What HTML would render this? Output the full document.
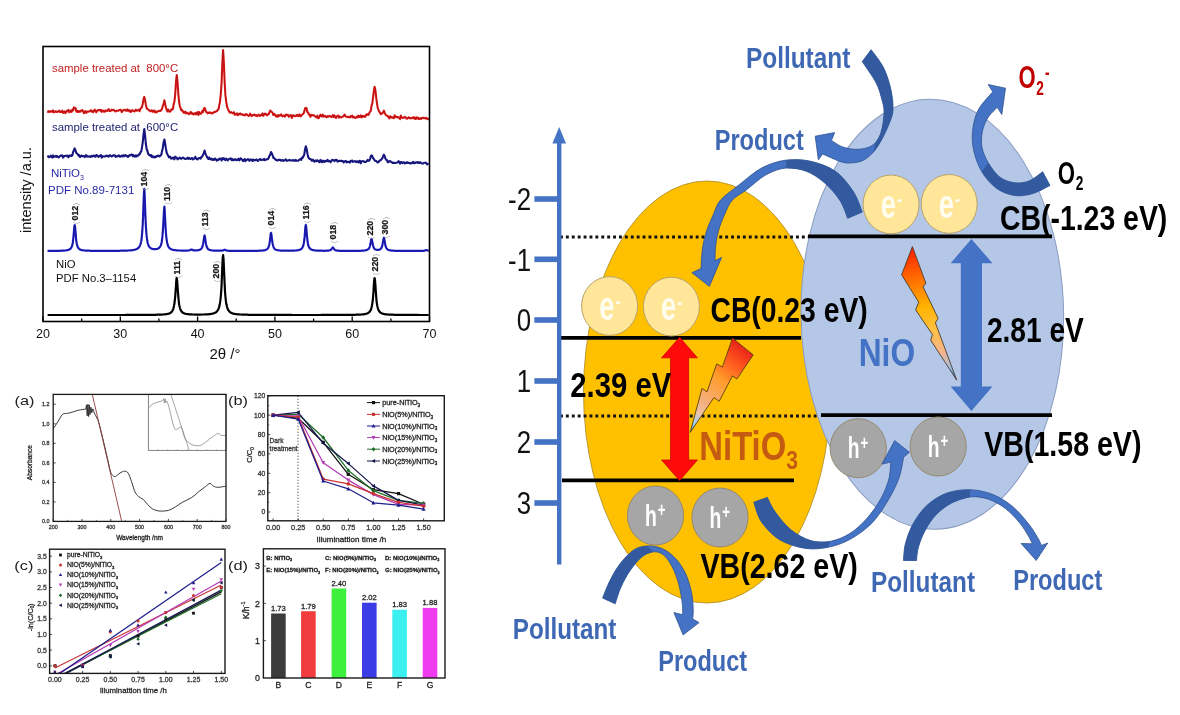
<!DOCTYPE html>
<html><head><meta charset="utf-8"><title>NiO/NiTiO3 figure</title>
<style>html,body{margin:0;padding:0;background:#fff;}svg{display:block}</style></head>
<body><svg width="1180" height="715" viewBox="0 0 1180 715">
<rect width="1180" height="715" fill="#fff"/>
<g id="xrd">
<polyline points="47.6,112.8 48.4,111.2 49.2,111.6 50.0,111.9 50.7,111.0 51.5,111.6 52.3,111.6 53.0,110.3 53.8,112.4 54.6,112.1 55.4,111.2 56.1,111.5 56.9,112.0 57.7,111.5 58.5,111.5 59.2,110.6 60.0,112.1 60.8,111.8 61.6,111.9 62.3,110.6 63.1,112.9 63.9,111.8 64.6,111.4 65.4,113.2 66.2,111.6 67.0,110.6 67.7,111.3 68.5,109.9 69.3,112.3 70.1,111.1 70.8,110.7 71.6,111.9 72.4,109.5 73.1,110.4 73.9,107.4 74.7,107.8 75.5,108.0 76.2,111.1 77.0,112.0 77.8,110.8 78.6,111.9 79.3,111.2 80.1,111.8 80.9,110.9 81.7,110.2 82.4,110.1 83.2,111.8 84.0,113.2 84.7,111.7 85.5,111.1 86.3,112.9 87.1,111.6 87.8,111.5 88.6,111.6 89.4,111.2 90.2,111.1 90.9,110.2 91.7,111.6 92.5,111.1 93.2,112.1 94.0,110.9 94.8,109.7 95.6,111.0 96.3,112.3 97.1,110.7 97.9,110.3 98.7,110.0 99.4,110.1 100.2,110.6 101.0,109.9 101.7,111.9 102.5,110.5 103.3,110.8 104.1,111.7 104.8,111.7 105.6,110.4 106.4,110.8 107.2,111.0 107.9,110.3 108.7,109.1 109.5,110.9 110.3,111.1 111.0,110.7 111.8,109.6 112.6,110.2 113.3,109.9 114.1,110.1 114.9,111.2 115.7,111.4 116.4,110.8 117.2,110.7 118.0,110.8 118.8,110.2 119.5,110.2 120.3,109.8 121.1,110.2 121.8,112.0 122.6,111.0 123.4,110.1 124.2,110.0 124.9,109.7 125.7,110.7 126.5,110.7 127.3,109.4 128.0,110.8 128.8,110.1 129.6,111.6 130.3,110.7 131.1,111.9 131.9,110.3 132.7,110.4 133.4,110.9 134.2,111.4 135.0,111.1 135.8,109.7 136.5,110.7 137.3,110.5 138.1,110.1 138.9,109.7 139.6,111.2 140.4,109.0 141.2,107.8 141.9,107.3 142.7,104.0 143.5,99.3 144.3,96.9 145.0,99.8 145.8,104.4 146.6,107.9 147.4,109.1 148.1,109.4 148.9,110.3 149.7,110.6 150.4,111.4 151.2,110.7 152.0,110.3 152.8,111.8 153.5,110.9 154.3,110.5 155.1,112.3 155.9,111.5 156.6,112.4 157.4,111.6 158.2,111.0 159.0,110.8 159.7,111.1 160.5,110.9 161.3,109.8 162.0,109.1 162.8,106.0 163.6,103.9 164.4,100.3 165.1,103.6 165.9,107.5 166.7,109.9 167.5,111.4 168.2,109.5 169.0,111.4 169.8,111.7 170.5,111.3 171.3,109.4 172.1,109.5 172.9,109.3 173.6,104.4 174.4,101.7 175.2,94.8 176.0,81.8 176.7,75.0 177.5,81.6 178.3,93.5 179.0,101.0 179.8,106.0 180.6,108.2 181.4,110.5 182.1,110.1 182.9,111.4 183.7,112.7 184.5,112.7 185.2,111.6 186.0,113.3 186.8,112.6 187.6,113.4 188.3,113.4 189.1,114.2 189.9,113.4 190.6,112.0 191.4,112.4 192.2,114.1 193.0,113.4 193.7,114.4 194.5,113.8 195.3,113.0 196.1,114.4 196.8,113.0 197.6,112.0 198.4,115.1 199.1,112.0 199.9,113.8 200.7,113.9 201.5,113.0 202.2,111.0 203.0,112.1 203.8,108.8 204.6,107.8 205.3,109.5 206.1,111.9 206.9,112.4 207.6,113.3 208.4,112.6 209.2,113.0 210.0,112.3 210.7,112.9 211.5,113.5 212.3,112.8 213.1,113.2 213.8,112.2 214.6,111.9 215.4,112.0 216.2,111.3 216.9,111.2 217.7,109.8 218.5,109.4 219.2,105.6 220.0,101.6 220.8,94.1 221.6,82.6 222.3,63.9 223.1,50.1 223.9,63.4 224.7,83.2 225.4,94.9 226.2,101.5 227.0,106.6 227.7,108.4 228.5,110.2 229.3,111.9 230.1,112.7 230.8,112.1 231.6,112.4 232.4,113.3 233.2,113.3 233.9,112.2 234.7,114.7 235.5,113.9 236.3,114.6 237.0,113.3 237.8,115.2 238.6,113.9 239.3,114.3 240.1,113.4 240.9,114.4 241.7,114.4 242.4,114.5 243.2,115.0 244.0,114.8 244.8,115.5 245.5,114.4 246.3,114.1 247.1,114.8 247.8,115.4 248.6,115.9 249.4,115.6 250.2,113.6 250.9,115.3 251.7,116.1 252.5,115.1 253.3,114.7 254.0,115.3 254.8,114.7 255.6,115.6 256.3,115.1 257.1,116.2 257.9,115.5 258.7,114.6 259.4,115.6 260.2,115.9 261.0,114.8 261.8,114.9 262.5,113.4 263.3,115.8 264.1,114.7 264.9,113.5 265.6,113.7 266.4,114.8 267.2,115.3 267.9,114.4 268.7,114.3 269.5,112.2 270.3,110.5 271.0,111.2 271.8,111.9 272.6,113.0 273.4,115.0 274.1,113.9 274.9,114.6 275.7,115.9 276.4,116.6 277.2,115.3 278.0,116.7 278.8,115.0 279.5,115.8 280.3,115.4 281.1,114.4 281.9,115.8 282.6,116.3 283.4,115.6 284.2,115.6 284.9,116.7 285.7,114.8 286.5,114.6 287.3,115.3 288.0,114.9 288.8,116.8 289.6,116.0 290.4,115.1 291.1,115.3 291.9,118.0 292.7,115.4 293.5,115.2 294.2,116.0 295.0,116.3 295.8,116.0 296.5,115.1 297.3,114.9 298.1,116.2 298.9,115.6 299.6,114.3 300.4,116.3 301.2,115.8 302.0,114.8 302.7,114.2 303.5,113.7 304.3,111.4 305.0,108.4 305.8,107.9 306.6,108.3 307.4,112.3 308.1,112.5 308.9,114.5 309.7,115.0 310.5,116.8 311.2,114.8 312.0,114.7 312.8,115.4 313.6,115.2 314.3,115.6 315.1,116.4 315.9,116.8 316.6,117.5 317.4,115.7 318.2,118.3 319.0,117.8 319.7,116.2 320.5,114.6 321.3,116.3 322.1,116.5 322.8,114.7 323.6,116.5 324.4,116.3 325.1,115.9 325.9,117.0 326.7,117.3 327.5,116.2 328.2,116.7 329.0,116.1 329.8,116.0 330.6,116.6 331.3,117.0 332.1,116.2 332.9,115.0 333.6,117.1 334.4,115.4 335.2,116.7 336.0,118.0 336.7,116.7 337.5,115.8 338.3,115.6 339.1,117.6 339.8,116.7 340.6,117.1 341.4,117.4 342.2,116.7 342.9,116.5 343.7,116.1 344.5,114.5 345.2,115.6 346.0,116.7 346.8,116.7 347.6,117.1 348.3,116.7 349.1,116.9 349.9,117.4 350.7,116.1 351.4,116.6 352.2,115.6 353.0,117.5 353.7,116.8 354.5,117.2 355.3,117.9 356.1,117.6 356.8,116.7 357.6,117.3 358.4,115.6 359.2,117.0 359.9,116.7 360.7,115.3 361.5,117.5 362.2,115.9 363.0,116.8 363.8,115.9 364.6,116.8 365.3,116.8 366.1,115.0 366.9,114.1 367.7,114.7 368.4,114.9 369.2,113.2 370.0,111.8 370.8,110.9 371.5,105.9 372.3,103.4 373.1,97.0 373.8,91.2 374.6,86.8 375.4,90.1 376.2,97.7 376.9,102.8 377.7,107.9 378.5,109.9 379.3,111.7 380.0,112.5 380.8,114.2 381.6,113.5 382.3,113.5 383.1,112.3 383.9,110.6 384.7,112.9 385.4,114.4 386.2,115.5 387.0,115.6 387.8,116.0 388.5,117.2 389.3,118.4 390.1,116.3 390.9,117.5 391.6,116.9 392.4,117.8 393.2,117.6 393.9,118.2 394.7,115.3 395.5,117.0 396.3,116.8 397.0,117.5 397.8,117.1 398.6,117.2 399.4,118.2 400.1,119.1 400.9,115.6 401.7,117.5 402.4,118.0 403.2,117.8 404.0,117.6 404.8,116.9 405.5,117.2 406.3,118.5 407.1,118.7 407.9,118.0 408.6,117.4 409.4,118.1 410.2,117.8 410.9,118.4 411.7,118.1 412.5,117.6 413.3,118.2 414.0,117.2 414.8,118.7 415.6,119.0 416.4,117.3 417.1,118.5 417.9,117.5 418.7,119.0 419.5,118.9 420.2,118.1 421.0,119.0 421.8,118.0 422.5,117.8 423.3,117.9 424.1,118.2 424.9,118.1 425.6,118.5 426.4,117.9 427.2,119.0 428.0,119.2 428.7,118.1" fill="none" stroke="#e21a1a" stroke-width="2.1" stroke-linejoin="round"/>
<polyline points="47.6,112.8 48.4,111.2 49.2,111.6 50.0,111.9 50.7,111.0 51.5,111.6 52.3,111.6 53.0,110.3 53.8,112.4 54.6,112.1 55.4,111.2 56.1,111.5 56.9,112.0 57.7,111.5 58.5,111.5 59.2,110.6 60.0,112.1 60.8,111.8 61.6,111.9 62.3,110.6 63.1,112.9 63.9,111.8 64.6,111.4 65.4,113.2 66.2,111.6 67.0,110.6 67.7,111.3 68.5,109.9 69.3,112.3 70.1,111.1 70.8,110.7 71.6,111.9 72.4,109.5 73.1,110.4 73.9,107.4 74.7,107.8 75.5,108.0 76.2,111.1 77.0,112.0 77.8,110.8 78.6,111.9 79.3,111.2 80.1,111.8 80.9,110.9 81.7,110.2 82.4,110.1 83.2,111.8 84.0,113.2 84.7,111.7 85.5,111.1 86.3,112.9 87.1,111.6 87.8,111.5 88.6,111.6 89.4,111.2 90.2,111.1 90.9,110.2 91.7,111.6 92.5,111.1 93.2,112.1 94.0,110.9 94.8,109.7 95.6,111.0 96.3,112.3 97.1,110.7 97.9,110.3 98.7,110.0 99.4,110.1 100.2,110.6 101.0,109.9 101.7,111.9 102.5,110.5 103.3,110.8 104.1,111.7 104.8,111.7 105.6,110.4 106.4,110.8 107.2,111.0 107.9,110.3 108.7,109.1 109.5,110.9 110.3,111.1 111.0,110.7 111.8,109.6 112.6,110.2 113.3,109.9 114.1,110.1 114.9,111.2 115.7,111.4 116.4,110.8 117.2,110.7 118.0,110.8 118.8,110.2 119.5,110.2 120.3,109.8 121.1,110.2 121.8,112.0 122.6,111.0 123.4,110.1 124.2,110.0 124.9,109.7 125.7,110.7 126.5,110.7 127.3,109.4 128.0,110.8 128.8,110.1 129.6,111.6 130.3,110.7 131.1,111.9 131.9,110.3 132.7,110.4 133.4,110.9 134.2,111.4 135.0,111.1 135.8,109.7 136.5,110.7 137.3,110.5 138.1,110.1 138.9,109.7 139.6,111.2 140.4,109.0 141.2,107.8 141.9,107.3 142.7,104.0 143.5,99.3 144.3,96.9 145.0,99.8 145.8,104.4 146.6,107.9 147.4,109.1 148.1,109.4 148.9,110.3 149.7,110.6 150.4,111.4 151.2,110.7 152.0,110.3 152.8,111.8 153.5,110.9 154.3,110.5 155.1,112.3 155.9,111.5 156.6,112.4 157.4,111.6 158.2,111.0 159.0,110.8 159.7,111.1 160.5,110.9 161.3,109.8 162.0,109.1 162.8,106.0 163.6,103.9 164.4,100.3 165.1,103.6 165.9,107.5 166.7,109.9 167.5,111.4 168.2,109.5 169.0,111.4 169.8,111.7 170.5,111.3 171.3,109.4 172.1,109.5 172.9,109.3 173.6,104.4 174.4,101.7 175.2,94.8 176.0,81.8 176.7,75.0 177.5,81.6 178.3,93.5 179.0,101.0 179.8,106.0 180.6,108.2 181.4,110.5 182.1,110.1 182.9,111.4 183.7,112.7 184.5,112.7 185.2,111.6 186.0,113.3 186.8,112.6 187.6,113.4 188.3,113.4 189.1,114.2 189.9,113.4 190.6,112.0 191.4,112.4 192.2,114.1 193.0,113.4 193.7,114.4 194.5,113.8 195.3,113.0 196.1,114.4 196.8,113.0 197.6,112.0 198.4,115.1 199.1,112.0 199.9,113.8 200.7,113.9 201.5,113.0 202.2,111.0 203.0,112.1 203.8,108.8 204.6,107.8 205.3,109.5 206.1,111.9 206.9,112.4 207.6,113.3 208.4,112.6 209.2,113.0 210.0,112.3 210.7,112.9 211.5,113.5 212.3,112.8 213.1,113.2 213.8,112.2 214.6,111.9 215.4,112.0 216.2,111.3 216.9,111.2 217.7,109.8 218.5,109.4 219.2,105.6 220.0,101.6 220.8,94.1 221.6,82.6 222.3,63.9 223.1,50.1 223.9,63.4 224.7,83.2 225.4,94.9 226.2,101.5 227.0,106.6 227.7,108.4 228.5,110.2 229.3,111.9 230.1,112.7 230.8,112.1 231.6,112.4 232.4,113.3 233.2,113.3 233.9,112.2 234.7,114.7 235.5,113.9 236.3,114.6 237.0,113.3 237.8,115.2 238.6,113.9 239.3,114.3 240.1,113.4 240.9,114.4 241.7,114.4 242.4,114.5 243.2,115.0 244.0,114.8 244.8,115.5 245.5,114.4 246.3,114.1 247.1,114.8 247.8,115.4 248.6,115.9 249.4,115.6 250.2,113.6 250.9,115.3 251.7,116.1 252.5,115.1 253.3,114.7 254.0,115.3 254.8,114.7 255.6,115.6 256.3,115.1 257.1,116.2 257.9,115.5 258.7,114.6 259.4,115.6 260.2,115.9 261.0,114.8 261.8,114.9 262.5,113.4 263.3,115.8 264.1,114.7 264.9,113.5 265.6,113.7 266.4,114.8 267.2,115.3 267.9,114.4 268.7,114.3 269.5,112.2 270.3,110.5 271.0,111.2 271.8,111.9 272.6,113.0 273.4,115.0 274.1,113.9 274.9,114.6 275.7,115.9 276.4,116.6 277.2,115.3 278.0,116.7 278.8,115.0 279.5,115.8 280.3,115.4 281.1,114.4 281.9,115.8 282.6,116.3 283.4,115.6 284.2,115.6 284.9,116.7 285.7,114.8 286.5,114.6 287.3,115.3 288.0,114.9 288.8,116.8 289.6,116.0 290.4,115.1 291.1,115.3 291.9,118.0 292.7,115.4 293.5,115.2 294.2,116.0 295.0,116.3 295.8,116.0 296.5,115.1 297.3,114.9 298.1,116.2 298.9,115.6 299.6,114.3 300.4,116.3 301.2,115.8 302.0,114.8 302.7,114.2 303.5,113.7 304.3,111.4 305.0,108.4 305.8,107.9 306.6,108.3 307.4,112.3 308.1,112.5 308.9,114.5 309.7,115.0 310.5,116.8 311.2,114.8 312.0,114.7 312.8,115.4 313.6,115.2 314.3,115.6 315.1,116.4 315.9,116.8 316.6,117.5 317.4,115.7 318.2,118.3 319.0,117.8 319.7,116.2 320.5,114.6 321.3,116.3 322.1,116.5 322.8,114.7 323.6,116.5 324.4,116.3 325.1,115.9 325.9,117.0 326.7,117.3 327.5,116.2 328.2,116.7 329.0,116.1 329.8,116.0 330.6,116.6 331.3,117.0 332.1,116.2 332.9,115.0 333.6,117.1 334.4,115.4 335.2,116.7 336.0,118.0 336.7,116.7 337.5,115.8 338.3,115.6 339.1,117.6 339.8,116.7 340.6,117.1 341.4,117.4 342.2,116.7 342.9,116.5 343.7,116.1 344.5,114.5 345.2,115.6 346.0,116.7 346.8,116.7 347.6,117.1 348.3,116.7 349.1,116.9 349.9,117.4 350.7,116.1 351.4,116.6 352.2,115.6 353.0,117.5 353.7,116.8 354.5,117.2 355.3,117.9 356.1,117.6 356.8,116.7 357.6,117.3 358.4,115.6 359.2,117.0 359.9,116.7 360.7,115.3 361.5,117.5 362.2,115.9 363.0,116.8 363.8,115.9 364.6,116.8 365.3,116.8 366.1,115.0 366.9,114.1 367.7,114.7 368.4,114.9 369.2,113.2 370.0,111.8 370.8,110.9 371.5,105.9 372.3,103.4 373.1,97.0 373.8,91.2 374.6,86.8 375.4,90.1 376.2,97.7 376.9,102.8 377.7,107.9 378.5,109.9 379.3,111.7 380.0,112.5 380.8,114.2 381.6,113.5 382.3,113.5 383.1,112.3 383.9,110.6 384.7,112.9 385.4,114.4 386.2,115.5 387.0,115.6 387.8,116.0 388.5,117.2 389.3,118.4 390.1,116.3 390.9,117.5 391.6,116.9 392.4,117.8 393.2,117.6 393.9,118.2 394.7,115.3 395.5,117.0 396.3,116.8 397.0,117.5 397.8,117.1 398.6,117.2 399.4,118.2 400.1,119.1 400.9,115.6 401.7,117.5 402.4,118.0 403.2,117.8 404.0,117.6 404.8,116.9 405.5,117.2 406.3,118.5 407.1,118.7 407.9,118.0 408.6,117.4 409.4,118.1 410.2,117.8 410.9,118.4 411.7,118.1 412.5,117.6 413.3,118.2 414.0,117.2 414.8,118.7 415.6,119.0 416.4,117.3 417.1,118.5 417.9,117.5 418.7,119.0 419.5,118.9 420.2,118.1 421.0,119.0 421.8,118.0 422.5,117.8 423.3,117.9 424.1,118.2 424.9,118.1 425.6,118.5 426.4,117.9 427.2,119.0 428.0,119.2 428.7,118.1" fill="none" stroke="#7a0c0c" stroke-width="0.7" stroke-linejoin="round" opacity="0.6"/>
<polyline points="47.6,155.6 48.4,157.0 49.2,157.3 50.0,156.5 50.7,155.7 51.5,156.8 52.3,157.6 53.0,155.4 53.8,156.9 54.6,156.4 55.4,156.1 56.1,156.9 56.9,155.8 57.7,156.8 58.5,157.5 59.2,156.7 60.0,156.1 60.8,155.5 61.6,155.8 62.3,155.4 63.1,157.6 63.9,156.4 64.6,155.9 65.4,155.7 66.2,155.8 67.0,156.2 67.7,155.6 68.5,157.4 69.3,155.7 70.1,155.4 70.8,155.8 71.6,156.0 72.4,155.0 73.1,152.2 73.9,150.2 74.7,148.4 75.5,150.3 76.2,152.7 77.0,153.5 77.8,154.2 78.6,155.7 79.3,155.1 80.1,157.0 80.9,156.2 81.7,155.6 82.4,156.2 83.2,156.1 84.0,156.3 84.7,157.1 85.5,155.5 86.3,155.2 87.1,156.7 87.8,156.3 88.6,156.5 89.4,156.7 90.2,156.3 90.9,156.9 91.7,155.8 92.5,156.4 93.2,155.8 94.0,155.6 94.8,156.7 95.6,156.6 96.3,155.0 97.1,155.5 97.9,156.3 98.7,156.8 99.4,155.7 100.2,156.0 101.0,155.1 101.7,157.6 102.5,156.3 103.3,156.5 104.1,156.4 104.8,156.5 105.6,156.3 106.4,155.6 107.2,156.3 107.9,155.9 108.7,156.6 109.5,155.3 110.3,155.4 111.0,156.1 111.8,156.5 112.6,155.8 113.3,155.2 114.1,155.6 114.9,155.3 115.7,156.9 116.4,156.2 117.2,156.5 118.0,155.8 118.8,155.3 119.5,156.4 120.3,156.7 121.1,156.0 121.8,155.6 122.6,156.4 123.4,155.4 124.2,156.2 124.9,155.2 125.7,155.1 126.5,156.1 127.3,156.0 128.0,157.0 128.8,155.6 129.6,155.8 130.3,155.0 131.1,154.6 131.9,154.6 132.7,156.1 133.4,155.0 134.2,156.4 135.0,156.6 135.8,155.4 136.5,156.5 137.3,155.4 138.1,155.7 138.9,154.4 139.6,154.5 140.4,152.3 141.2,151.6 141.9,147.9 142.7,142.8 143.5,134.9 144.3,129.1 145.0,134.6 145.8,143.5 146.6,149.0 147.4,150.7 148.1,153.7 148.9,154.9 149.7,154.7 150.4,155.9 151.2,155.1 152.0,157.2 152.8,156.3 153.5,156.5 154.3,157.5 155.1,156.6 155.9,157.1 156.6,156.1 157.4,156.3 158.2,155.6 159.0,156.1 159.7,156.5 160.5,155.4 161.3,154.7 162.0,151.4 162.8,147.9 163.6,142.5 164.4,139.5 165.1,143.2 165.9,148.7 166.7,152.8 167.5,154.4 168.2,155.7 169.0,157.3 169.8,156.5 170.5,157.4 171.3,158.6 172.1,157.8 172.9,158.3 173.6,157.6 174.4,159.3 175.2,156.7 176.0,157.5 176.7,157.6 177.5,159.4 178.3,158.6 179.0,158.3 179.8,157.6 180.6,158.7 181.4,158.6 182.1,158.1 182.9,157.6 183.7,157.9 184.5,158.8 185.2,158.9 186.0,158.7 186.8,158.6 187.6,157.6 188.3,158.8 189.1,158.1 189.9,158.8 190.6,159.1 191.4,158.3 192.2,158.1 193.0,159.4 193.7,159.0 194.5,158.4 195.3,156.8 196.1,158.7 196.8,159.1 197.6,159.4 198.4,158.2 199.1,158.1 199.9,158.0 200.7,158.6 201.5,156.8 202.2,156.7 203.0,154.8 203.8,153.3 204.6,150.6 205.3,153.4 206.1,155.1 206.9,156.7 207.6,158.1 208.4,158.9 209.2,157.4 210.0,159.3 210.7,159.2 211.5,158.7 212.3,159.9 213.1,159.2 213.8,160.0 214.6,158.8 215.4,158.6 216.2,160.0 216.9,160.7 217.7,159.7 218.5,159.9 219.2,159.0 220.0,158.5 220.8,159.2 221.6,160.4 222.3,158.2 223.1,159.1 223.9,158.2 224.7,159.5 225.4,160.1 226.2,158.7 227.0,159.3 227.7,160.4 228.5,159.5 229.3,158.8 230.1,158.7 230.8,158.3 231.6,160.1 232.4,159.1 233.2,160.3 233.9,160.2 234.7,159.2 235.5,159.3 236.3,160.2 237.0,159.8 237.8,159.9 238.6,158.7 239.3,160.3 240.1,159.2 240.9,158.3 241.7,159.4 242.4,160.1 243.2,161.2 244.0,159.6 244.8,159.0 245.5,161.2 246.3,160.0 247.1,159.7 247.8,159.2 248.6,159.2 249.4,160.9 250.2,159.7 250.9,159.6 251.7,159.6 252.5,161.0 253.3,159.6 254.0,160.4 254.8,160.1 255.6,160.1 256.3,159.4 257.1,160.4 257.9,161.0 258.7,159.9 259.4,159.4 260.2,159.1 261.0,160.1 261.8,159.7 262.5,159.8 263.3,159.9 264.1,158.8 264.9,160.2 265.6,159.8 266.4,159.4 267.2,159.3 267.9,159.2 268.7,157.8 269.5,155.7 270.3,154.6 271.0,152.0 271.8,153.4 272.6,155.3 273.4,157.9 274.1,158.1 274.9,158.9 275.7,159.9 276.4,159.8 277.2,160.6 278.0,160.2 278.8,159.8 279.5,159.9 280.3,159.9 281.1,160.7 281.9,160.3 282.6,160.0 283.4,160.9 284.2,160.4 284.9,160.1 285.7,159.4 286.5,160.7 287.3,160.6 288.0,160.5 288.8,160.2 289.6,159.9 290.4,160.3 291.1,160.6 291.9,160.4 292.7,160.4 293.5,160.1 294.2,160.6 295.0,160.6 295.8,159.9 296.5,160.8 297.3,160.8 298.1,160.7 298.9,160.0 299.6,159.8 300.4,159.0 301.2,159.9 302.0,157.5 302.7,157.8 303.5,156.3 304.3,154.4 305.0,149.7 305.8,146.3 306.6,148.8 307.4,153.4 308.1,156.7 308.9,158.2 309.7,158.9 310.5,159.1 311.2,159.8 312.0,160.8 312.8,159.6 313.6,160.5 314.3,161.6 315.1,161.0 315.9,160.4 316.6,161.2 317.4,160.3 318.2,160.9 319.0,161.9 319.7,162.2 320.5,159.9 321.3,161.4 322.1,162.3 322.8,160.7 323.6,161.2 324.4,162.0 325.1,160.8 325.9,161.4 326.7,161.0 327.5,159.8 328.2,161.3 329.0,160.9 329.8,161.5 330.6,162.2 331.3,161.0 332.1,159.8 332.9,160.1 333.6,160.2 334.4,161.2 335.2,159.9 336.0,160.3 336.7,159.8 337.5,161.6 338.3,161.3 339.1,160.9 339.8,160.9 340.6,161.0 341.4,160.8 342.2,161.2 342.9,161.1 343.7,162.4 344.5,161.7 345.2,161.0 346.0,161.1 346.8,162.3 347.6,161.8 348.3,161.7 349.1,162.0 349.9,162.6 350.7,160.8 351.4,161.1 352.2,160.5 353.0,161.9 353.7,161.4 354.5,161.2 355.3,161.1 356.1,162.1 356.8,161.6 357.6,161.3 358.4,162.5 359.2,161.0 359.9,160.8 360.7,163.3 361.5,161.4 362.2,161.3 363.0,161.1 363.8,161.5 364.6,162.0 365.3,161.9 366.1,161.7 366.9,161.0 367.7,159.9 368.4,160.7 369.2,160.7 370.0,159.1 370.8,156.2 371.5,155.4 372.3,156.0 373.1,158.4 373.8,158.9 374.6,160.3 375.4,161.0 376.2,161.0 376.9,161.7 377.7,162.5 378.5,162.1 379.3,160.9 380.0,160.4 380.8,160.1 381.6,159.1 382.3,158.3 383.1,156.4 383.9,154.7 384.7,156.3 385.4,158.5 386.2,159.8 387.0,160.2 387.8,162.3 388.5,162.2 389.3,161.1 390.1,161.2 390.9,161.6 391.6,162.0 392.4,162.9 393.2,162.8 393.9,162.9 394.7,162.9 395.5,163.0 396.3,162.8 397.0,162.6 397.8,162.3 398.6,161.2 399.4,162.3 400.1,163.6 400.9,162.1 401.7,162.0 402.4,163.1 403.2,162.5 404.0,162.2 404.8,163.5 405.5,162.9 406.3,163.0 407.1,162.2 407.9,162.9 408.6,162.8 409.4,163.1 410.2,163.4 410.9,163.4 411.7,162.8 412.5,163.1 413.3,161.9 414.0,163.1 414.8,163.2 415.6,162.5 416.4,162.2 417.1,162.7 417.9,162.0 418.7,163.0 419.5,163.0 420.2,162.2 421.0,162.9 421.8,163.5 422.5,163.5 423.3,163.5 424.1,162.8 424.9,162.7 425.6,162.7 426.4,163.3 427.2,164.5 428.0,163.9 428.7,164.0" fill="none" stroke="#16167e" stroke-width="2.1" stroke-linejoin="round"/>
<polyline points="47.6,250.9 48.0,250.9 48.4,250.9 48.8,250.9 49.2,250.9 49.6,250.9 50.0,250.9 50.3,250.9 50.7,250.9 51.1,250.9 51.5,250.9 51.9,250.9 52.3,250.9 52.7,250.9 53.0,250.9 53.4,250.9 53.8,250.9 54.2,250.9 54.6,250.9 55.0,250.9 55.4,250.9 55.8,250.9 56.1,250.8 56.5,250.8 56.9,250.8 57.3,250.8 57.7,250.8 58.1,250.8 58.5,250.8 58.8,250.8 59.2,250.8 59.6,250.8 60.0,250.8 60.4,250.8 60.8,250.7 61.2,250.7 61.6,250.7 61.9,250.7 62.3,250.7 62.7,250.7 63.1,250.6 63.5,250.6 63.9,250.6 64.3,250.6 64.6,250.5 65.0,250.5 65.4,250.5 65.8,250.4 66.2,250.4 66.6,250.3 67.0,250.2 67.3,250.2 67.7,250.1 68.1,250.0 68.5,249.8 68.9,249.7 69.3,249.5 69.7,249.3 70.1,249.0 70.4,248.7 70.8,248.3 71.2,247.7 71.6,247.0 72.0,246.0 72.4,244.6 72.8,242.7 73.1,240.1 73.5,236.3 73.9,231.6 74.3,227.0 74.7,225.0 75.1,227.0 75.5,231.6 75.9,236.3 76.2,240.1 76.6,242.7 77.0,244.6 77.4,246.0 77.8,247.0 78.2,247.7 78.6,248.3 78.9,248.7 79.3,249.0 79.7,249.3 80.1,249.5 80.5,249.7 80.9,249.8 81.3,250.0 81.7,250.1 82.0,250.1 82.4,250.2 82.8,250.3 83.2,250.3 83.6,250.4 84.0,250.4 84.4,250.5 84.7,250.5 85.1,250.5 85.5,250.6 85.9,250.6 86.3,250.6 86.7,250.6 87.1,250.7 87.4,250.7 87.8,250.7 88.2,250.7 88.6,250.7 89.0,250.7 89.4,250.7 89.8,250.7 90.2,250.8 90.5,250.8 90.9,250.8 91.3,250.8 91.7,250.8 92.1,250.8 92.5,250.8 92.9,250.8 93.2,250.8 93.6,250.8 94.0,250.8 94.4,250.8 94.8,250.8 95.2,250.8 95.6,250.8 96.0,250.8 96.3,250.8 96.7,250.8 97.1,250.8 97.5,250.8 97.9,250.8 98.3,250.8 98.7,250.8 99.0,250.8 99.4,250.9 99.8,250.9 100.2,250.9 100.6,250.9 101.0,250.9 101.4,250.9 101.7,250.9 102.1,250.9 102.5,250.9 102.9,250.9 103.3,250.9 103.7,250.9 104.1,250.9 104.5,250.9 104.8,250.9 105.2,250.9 105.6,250.9 106.0,250.9 106.4,250.9 106.8,250.9 107.2,250.9 107.5,250.8 107.9,250.8 108.3,250.8 108.7,250.8 109.1,250.8 109.5,250.8 109.9,250.8 110.3,250.8 110.6,250.8 111.0,250.8 111.4,250.8 111.8,250.8 112.2,250.8 112.6,250.8 113.0,250.8 113.3,250.8 113.7,250.8 114.1,250.8 114.5,250.8 114.9,250.8 115.3,250.8 115.7,250.8 116.0,250.8 116.4,250.8 116.8,250.8 117.2,250.8 117.6,250.8 118.0,250.8 118.4,250.8 118.8,250.8 119.1,250.8 119.5,250.8 119.9,250.8 120.3,250.7 120.7,250.7 121.1,250.7 121.5,250.7 121.8,250.7 122.2,250.7 122.6,250.7 123.0,250.7 123.4,250.7 123.8,250.7 124.2,250.7 124.6,250.7 124.9,250.6 125.3,250.6 125.7,250.6 126.1,250.6 126.5,250.6 126.9,250.6 127.3,250.6 127.6,250.5 128.0,250.5 128.4,250.5 128.8,250.5 129.2,250.4 129.6,250.4 130.0,250.4 130.3,250.4 130.7,250.3 131.1,250.3 131.5,250.3 131.9,250.2 132.3,250.2 132.7,250.1 133.1,250.1 133.4,250.0 133.8,249.9 134.2,249.9 134.6,249.8 135.0,249.7 135.4,249.6 135.8,249.4 136.1,249.3 136.5,249.1 136.9,249.0 137.3,248.7 137.7,248.5 138.1,248.2 138.5,247.8 138.9,247.4 139.2,246.9 139.6,246.2 140.0,245.4 140.4,244.4 140.8,243.1 141.2,241.4 141.6,239.0 141.9,235.8 142.3,231.2 142.7,224.8 143.1,216.0 143.5,204.7 143.9,193.7 144.3,188.8 144.6,193.7 145.0,204.7 145.4,215.9 145.8,224.8 146.2,231.1 146.6,235.7 147.0,238.9 147.4,241.2 147.7,243.0 148.1,244.3 148.5,245.3 148.9,246.1 149.3,246.7 149.7,247.2 150.1,247.6 150.4,247.9 150.8,248.2 151.2,248.4 151.6,248.6 152.0,248.7 152.4,248.9 152.8,249.0 153.2,249.1 153.5,249.1 153.9,249.2 154.3,249.2 154.7,249.2 155.1,249.2 155.5,249.2 155.9,249.2 156.2,249.1 156.6,249.0 157.0,249.0 157.4,248.8 157.8,248.7 158.2,248.5 158.6,248.3 159.0,248.0 159.3,247.7 159.7,247.3 160.1,246.7 160.5,246.0 160.9,245.1 161.3,243.9 161.7,242.2 162.0,239.9 162.4,236.7 162.8,232.2 163.2,225.9 163.6,218.0 164.0,210.2 164.4,206.7 164.7,210.2 165.1,218.0 165.5,226.0 165.9,232.3 166.3,236.8 166.7,240.1 167.1,242.4 167.5,244.0 167.8,245.3 168.2,246.2 168.6,246.9 169.0,247.5 169.4,248.0 169.8,248.3 170.2,248.7 170.5,248.9 170.9,249.1 171.3,249.3 171.7,249.5 172.1,249.6 172.5,249.7 172.9,249.8 173.3,249.9 173.6,250.0 174.0,250.0 174.4,250.1 174.8,250.1 175.2,250.2 175.6,250.2 176.0,250.3 176.3,250.3 176.7,250.4 177.1,250.4 177.5,250.4 177.9,250.4 178.3,250.5 178.7,250.5 179.0,250.5 179.4,250.5 179.8,250.5 180.2,250.5 180.6,250.6 181.0,250.6 181.4,250.6 181.8,250.6 182.1,250.6 182.5,250.6 182.9,250.6 183.3,250.6 183.7,250.6 184.1,250.6 184.5,250.6 184.8,250.6 185.2,250.6 185.6,250.6 186.0,250.6 186.4,250.6 186.8,250.6 187.2,250.6 187.6,250.6 187.9,250.5 188.3,250.5 188.7,250.5 189.1,250.4 189.5,250.3 189.9,250.2 190.3,250.0 190.6,249.8 191.0,249.6 191.4,249.5 191.8,249.6 192.2,249.8 192.6,250.0 193.0,250.1 193.3,250.3 193.7,250.3 194.1,250.4 194.5,250.4 194.9,250.4 195.3,250.4 195.7,250.4 196.1,250.4 196.4,250.4 196.8,250.4 197.2,250.3 197.6,250.3 198.0,250.2 198.4,250.2 198.8,250.1 199.1,250.0 199.5,249.9 199.9,249.7 200.3,249.5 200.7,249.3 201.1,248.9 201.5,248.5 201.9,247.9 202.2,247.1 202.6,246.0 203.0,244.4 203.4,242.2 203.8,239.4 204.2,236.6 204.6,235.4 204.9,236.6 205.3,239.4 205.7,242.2 206.1,244.4 206.5,246.0 206.9,247.1 207.3,247.9 207.6,248.5 208.0,249.0 208.4,249.3 208.8,249.6 209.2,249.8 209.6,249.9 210.0,250.0 210.4,250.1 210.7,250.2 211.1,250.3 211.5,250.4 211.9,250.4 212.3,250.5 212.7,250.5 213.1,250.5 213.4,250.6 213.8,250.6 214.2,250.6 214.6,250.6 215.0,250.7 215.4,250.7 215.8,250.7 216.2,250.7 216.5,250.7 216.9,250.7 217.3,250.7 217.7,250.7 218.1,250.7 218.5,250.7 218.9,250.7 219.2,250.7 219.6,250.7 220.0,250.7 220.4,250.7 220.8,250.7 221.2,250.7 221.6,250.7 221.9,250.6 222.3,250.6 222.7,250.5 223.1,250.4 223.5,250.2 223.9,250.0 224.3,249.8 224.7,249.7 225.0,249.8 225.4,250.0 225.8,250.2 226.2,250.4 226.6,250.5 227.0,250.6 227.4,250.7 227.7,250.7 228.1,250.7 228.5,250.8 228.9,250.8 229.3,250.8 229.7,250.8 230.1,250.8 230.5,250.8 230.8,250.8 231.2,250.9 231.6,250.9 232.0,250.9 232.4,250.9 232.8,250.9 233.2,250.9 233.5,250.9 233.9,250.9 234.3,250.9 234.7,250.9 235.1,250.9 235.5,250.9 235.9,250.9 236.3,250.9 236.6,250.9 237.0,250.9 237.4,250.9 237.8,250.9 238.2,250.9 238.6,250.9 239.0,250.9 239.3,250.9 239.7,250.9 240.1,250.9 240.5,250.9 240.9,250.9 241.3,250.9 241.7,250.9 242.0,250.9 242.4,250.9 242.8,250.9 243.2,250.9 243.6,250.9 244.0,250.9 244.4,250.9 244.8,250.9 245.1,250.9 245.5,250.9 245.9,250.9 246.3,250.9 246.7,250.9 247.1,250.9 247.5,250.9 247.8,250.9 248.2,250.9 248.6,250.9 249.0,250.9 249.4,250.9 249.8,250.9 250.2,250.9 250.6,250.9 250.9,250.9 251.3,250.9 251.7,250.9 252.1,250.9 252.5,250.9 252.9,250.9 253.3,250.8 253.6,250.8 254.0,250.8 254.4,250.8 254.8,250.8 255.2,250.8 255.6,250.8 256.0,250.8 256.3,250.8 256.7,250.8 257.1,250.8 257.5,250.8 257.9,250.8 258.3,250.8 258.7,250.7 259.1,250.7 259.4,250.7 259.8,250.7 260.2,250.7 260.6,250.7 261.0,250.6 261.4,250.6 261.8,250.6 262.1,250.6 262.5,250.5 262.9,250.5 263.3,250.4 263.7,250.4 264.1,250.3 264.5,250.3 264.9,250.2 265.2,250.1 265.6,249.9 266.0,249.8 266.4,249.6 266.8,249.4 267.2,249.1 267.6,248.7 267.9,248.2 268.3,247.5 268.7,246.6 269.1,245.2 269.5,243.4 269.9,240.8 270.3,237.6 270.6,234.4 271.0,232.9 271.4,234.4 271.8,237.6 272.2,240.8 272.6,243.4 273.0,245.2 273.4,246.6 273.7,247.5 274.1,248.2 274.5,248.7 274.9,249.1 275.3,249.4 275.7,249.6 276.1,249.8 276.4,249.9 276.8,250.0 277.2,250.1 277.6,250.2 278.0,250.3 278.4,250.4 278.8,250.4 279.2,250.5 279.5,250.5 279.9,250.5 280.3,250.6 280.7,250.6 281.1,250.6 281.5,250.6 281.9,250.6 282.2,250.7 282.6,250.7 283.0,250.7 283.4,250.7 283.8,250.7 284.2,250.7 284.6,250.7 284.9,250.7 285.3,250.7 285.7,250.7 286.1,250.7 286.5,250.7 286.9,250.7 287.3,250.7 287.7,250.7 288.0,250.7 288.4,250.7 288.8,250.7 289.2,250.7 289.6,250.7 290.0,250.7 290.4,250.7 290.7,250.7 291.1,250.7 291.5,250.7 291.9,250.7 292.3,250.7 292.7,250.7 293.1,250.6 293.5,250.6 293.8,250.6 294.2,250.6 294.6,250.6 295.0,250.5 295.4,250.5 295.8,250.5 296.2,250.5 296.5,250.4 296.9,250.4 297.3,250.3 297.7,250.3 298.1,250.2 298.5,250.1 298.9,250.0 299.2,249.9 299.6,249.8 300.0,249.7 300.4,249.5 300.8,249.3 301.2,249.0 301.6,248.7 302.0,248.2 302.3,247.7 302.7,247.0 303.1,246.0 303.5,244.6 303.9,242.7 304.3,240.0 304.7,236.3 305.0,231.6 305.4,227.0 305.8,224.9 306.2,227.0 306.6,231.6 307.0,236.3 307.4,240.0 307.8,242.7 308.1,244.6 308.5,246.0 308.9,247.0 309.3,247.7 309.7,248.3 310.1,248.7 310.5,249.0 310.8,249.3 311.2,249.5 311.6,249.7 312.0,249.8 312.4,249.9 312.8,250.1 313.2,250.1 313.6,250.2 313.9,250.3 314.3,250.3 314.7,250.4 315.1,250.4 315.5,250.5 315.9,250.5 316.3,250.5 316.6,250.6 317.0,250.6 317.4,250.6 317.8,250.6 318.2,250.6 318.6,250.7 319.0,250.7 319.3,250.7 319.7,250.7 320.1,250.7 320.5,250.7 320.9,250.7 321.3,250.7 321.7,250.7 322.1,250.7 322.4,250.7 322.8,250.8 323.2,250.8 323.6,250.8 324.0,250.8 324.4,250.8 324.8,250.8 325.1,250.7 325.5,250.7 325.9,250.7 326.3,250.7 326.7,250.7 327.1,250.7 327.5,250.7 327.9,250.6 328.2,250.6 328.6,250.6 329.0,250.5 329.4,250.4 329.8,250.3 330.2,250.2 330.6,250.0 330.9,249.8 331.3,249.4 331.7,248.9 332.1,248.3 332.5,247.7 332.9,247.4 333.3,247.7 333.6,248.3 334.0,248.9 334.4,249.4 334.8,249.8 335.2,250.1 335.6,250.2 336.0,250.4 336.4,250.5 336.7,250.5 337.1,250.6 337.5,250.7 337.9,250.7 338.3,250.7 338.7,250.7 339.1,250.8 339.4,250.8 339.8,250.8 340.2,250.8 340.6,250.8 341.0,250.8 341.4,250.8 341.8,250.8 342.2,250.8 342.5,250.9 342.9,250.9 343.3,250.9 343.7,250.9 344.1,250.9 344.5,250.9 344.9,250.9 345.2,250.9 345.6,250.9 346.0,250.9 346.4,250.9 346.8,250.9 347.2,250.9 347.6,250.9 347.9,250.9 348.3,250.9 348.7,250.9 349.1,250.9 349.5,250.9 349.9,250.9 350.3,250.9 350.7,250.9 351.0,250.9 351.4,250.9 351.8,250.9 352.2,250.9 352.6,250.9 353.0,250.9 353.4,250.9 353.7,250.9 354.1,250.9 354.5,250.9 354.9,250.9 355.3,250.9 355.7,250.8 356.1,250.8 356.5,250.8 356.8,250.8 357.2,250.8 357.6,250.8 358.0,250.8 358.4,250.8 358.8,250.8 359.2,250.8 359.5,250.8 359.9,250.8 360.3,250.8 360.7,250.8 361.1,250.7 361.5,250.7 361.9,250.7 362.2,250.7 362.6,250.7 363.0,250.6 363.4,250.6 363.8,250.6 364.2,250.5 364.6,250.5 365.0,250.4 365.3,250.4 365.7,250.3 366.1,250.2 366.5,250.1 366.9,250.0 367.3,249.8 367.7,249.6 368.0,249.4 368.4,249.0 368.8,248.6 369.2,248.0 369.6,247.1 370.0,245.8 370.4,244.1 370.8,241.9 371.1,239.8 371.5,238.8 371.9,239.8 372.3,241.9 372.7,244.1 373.1,245.8 373.5,247.0 373.8,247.8 374.2,248.5 374.6,248.9 375.0,249.2 375.4,249.4 375.8,249.6 376.2,249.7 376.5,249.8 376.9,249.9 377.3,249.9 377.7,249.9 378.1,249.9 378.5,249.8 378.9,249.8 379.3,249.7 379.6,249.5 380.0,249.4 380.4,249.1 380.8,248.8 381.2,248.3 381.6,247.6 382.0,246.7 382.3,245.4 382.7,243.5 383.1,241.2 383.5,238.9 383.9,237.8 384.3,238.9 384.7,241.2 385.1,243.6 385.4,245.4 385.8,246.8 386.2,247.7 386.6,248.4 387.0,248.9 387.4,249.3 387.8,249.6 388.1,249.8 388.5,249.9 388.9,250.1 389.3,250.2 389.7,250.3 390.1,250.4 390.5,250.4 390.9,250.5 391.2,250.5 391.6,250.6 392.0,250.6 392.4,250.6 392.8,250.7 393.2,250.7 393.6,250.7 393.9,250.7 394.3,250.7 394.7,250.8 395.1,250.8 395.5,250.8 395.9,250.8 396.3,250.8 396.6,250.8 397.0,250.8 397.4,250.8 397.8,250.8 398.2,250.8 398.6,250.9 399.0,250.9 399.4,250.9 399.7,250.9 400.1,250.9 400.5,250.9 400.9,250.9 401.3,250.9 401.7,250.9 402.1,250.9 402.4,250.9 402.8,250.9 403.2,250.9 403.6,250.9 404.0,250.9 404.4,250.9 404.8,250.9 405.2,250.9 405.5,250.9 405.9,250.9 406.3,250.9 406.7,250.9 407.1,250.9 407.5,250.9 407.9,250.9 408.2,250.9 408.6,250.9 409.0,250.9 409.4,250.9 409.8,250.9 410.2,250.9 410.6,250.9 410.9,250.9 411.3,250.9 411.7,250.9 412.1,250.9 412.5,250.9 412.9,250.9 413.3,250.9 413.7,250.9 414.0,250.9 414.4,250.9 414.8,250.9 415.2,250.9 415.6,250.9 416.0,250.9 416.4,250.9 416.7,250.9 417.1,250.9 417.5,250.9 417.9,250.9 418.3,250.9 418.7,250.9 419.1,250.9 419.5,250.9 419.8,250.9 420.2,250.9 420.6,250.9 421.0,250.9 421.4,250.9 421.8,250.9 422.2,250.9 422.5,250.9 422.9,250.8 423.3,250.8 423.7,250.8 424.1,250.7 424.5,250.7 424.9,250.6 425.2,250.4 425.6,250.2 426.0,250.1 426.4,250.0 426.8,250.1 427.2,250.2 427.6,250.4 428.0,250.6 428.3,250.7 428.7,250.7" fill="none" stroke="#2424d6" stroke-width="2.2" stroke-linejoin="round"/>
<polyline points="47.6,250.9 48.0,250.9 48.4,250.9 48.8,250.9 49.2,250.9 49.6,250.9 50.0,250.9 50.3,250.9 50.7,250.9 51.1,250.9 51.5,250.9 51.9,250.9 52.3,250.9 52.7,250.9 53.0,250.9 53.4,250.9 53.8,250.9 54.2,250.9 54.6,250.9 55.0,250.9 55.4,250.9 55.8,250.9 56.1,250.8 56.5,250.8 56.9,250.8 57.3,250.8 57.7,250.8 58.1,250.8 58.5,250.8 58.8,250.8 59.2,250.8 59.6,250.8 60.0,250.8 60.4,250.8 60.8,250.7 61.2,250.7 61.6,250.7 61.9,250.7 62.3,250.7 62.7,250.7 63.1,250.6 63.5,250.6 63.9,250.6 64.3,250.6 64.6,250.5 65.0,250.5 65.4,250.5 65.8,250.4 66.2,250.4 66.6,250.3 67.0,250.2 67.3,250.2 67.7,250.1 68.1,250.0 68.5,249.8 68.9,249.7 69.3,249.5 69.7,249.3 70.1,249.0 70.4,248.7 70.8,248.3 71.2,247.7 71.6,247.0 72.0,246.0 72.4,244.6 72.8,242.7 73.1,240.1 73.5,236.3 73.9,231.6 74.3,227.0 74.7,225.0 75.1,227.0 75.5,231.6 75.9,236.3 76.2,240.1 76.6,242.7 77.0,244.6 77.4,246.0 77.8,247.0 78.2,247.7 78.6,248.3 78.9,248.7 79.3,249.0 79.7,249.3 80.1,249.5 80.5,249.7 80.9,249.8 81.3,250.0 81.7,250.1 82.0,250.1 82.4,250.2 82.8,250.3 83.2,250.3 83.6,250.4 84.0,250.4 84.4,250.5 84.7,250.5 85.1,250.5 85.5,250.6 85.9,250.6 86.3,250.6 86.7,250.6 87.1,250.7 87.4,250.7 87.8,250.7 88.2,250.7 88.6,250.7 89.0,250.7 89.4,250.7 89.8,250.7 90.2,250.8 90.5,250.8 90.9,250.8 91.3,250.8 91.7,250.8 92.1,250.8 92.5,250.8 92.9,250.8 93.2,250.8 93.6,250.8 94.0,250.8 94.4,250.8 94.8,250.8 95.2,250.8 95.6,250.8 96.0,250.8 96.3,250.8 96.7,250.8 97.1,250.8 97.5,250.8 97.9,250.8 98.3,250.8 98.7,250.8 99.0,250.8 99.4,250.9 99.8,250.9 100.2,250.9 100.6,250.9 101.0,250.9 101.4,250.9 101.7,250.9 102.1,250.9 102.5,250.9 102.9,250.9 103.3,250.9 103.7,250.9 104.1,250.9 104.5,250.9 104.8,250.9 105.2,250.9 105.6,250.9 106.0,250.9 106.4,250.9 106.8,250.9 107.2,250.9 107.5,250.8 107.9,250.8 108.3,250.8 108.7,250.8 109.1,250.8 109.5,250.8 109.9,250.8 110.3,250.8 110.6,250.8 111.0,250.8 111.4,250.8 111.8,250.8 112.2,250.8 112.6,250.8 113.0,250.8 113.3,250.8 113.7,250.8 114.1,250.8 114.5,250.8 114.9,250.8 115.3,250.8 115.7,250.8 116.0,250.8 116.4,250.8 116.8,250.8 117.2,250.8 117.6,250.8 118.0,250.8 118.4,250.8 118.8,250.8 119.1,250.8 119.5,250.8 119.9,250.8 120.3,250.7 120.7,250.7 121.1,250.7 121.5,250.7 121.8,250.7 122.2,250.7 122.6,250.7 123.0,250.7 123.4,250.7 123.8,250.7 124.2,250.7 124.6,250.7 124.9,250.6 125.3,250.6 125.7,250.6 126.1,250.6 126.5,250.6 126.9,250.6 127.3,250.6 127.6,250.5 128.0,250.5 128.4,250.5 128.8,250.5 129.2,250.4 129.6,250.4 130.0,250.4 130.3,250.4 130.7,250.3 131.1,250.3 131.5,250.3 131.9,250.2 132.3,250.2 132.7,250.1 133.1,250.1 133.4,250.0 133.8,249.9 134.2,249.9 134.6,249.8 135.0,249.7 135.4,249.6 135.8,249.4 136.1,249.3 136.5,249.1 136.9,249.0 137.3,248.7 137.7,248.5 138.1,248.2 138.5,247.8 138.9,247.4 139.2,246.9 139.6,246.2 140.0,245.4 140.4,244.4 140.8,243.1 141.2,241.4 141.6,239.0 141.9,235.8 142.3,231.2 142.7,224.8 143.1,216.0 143.5,204.7 143.9,193.7 144.3,188.8 144.6,193.7 145.0,204.7 145.4,215.9 145.8,224.8 146.2,231.1 146.6,235.7 147.0,238.9 147.4,241.2 147.7,243.0 148.1,244.3 148.5,245.3 148.9,246.1 149.3,246.7 149.7,247.2 150.1,247.6 150.4,247.9 150.8,248.2 151.2,248.4 151.6,248.6 152.0,248.7 152.4,248.9 152.8,249.0 153.2,249.1 153.5,249.1 153.9,249.2 154.3,249.2 154.7,249.2 155.1,249.2 155.5,249.2 155.9,249.2 156.2,249.1 156.6,249.0 157.0,249.0 157.4,248.8 157.8,248.7 158.2,248.5 158.6,248.3 159.0,248.0 159.3,247.7 159.7,247.3 160.1,246.7 160.5,246.0 160.9,245.1 161.3,243.9 161.7,242.2 162.0,239.9 162.4,236.7 162.8,232.2 163.2,225.9 163.6,218.0 164.0,210.2 164.4,206.7 164.7,210.2 165.1,218.0 165.5,226.0 165.9,232.3 166.3,236.8 166.7,240.1 167.1,242.4 167.5,244.0 167.8,245.3 168.2,246.2 168.6,246.9 169.0,247.5 169.4,248.0 169.8,248.3 170.2,248.7 170.5,248.9 170.9,249.1 171.3,249.3 171.7,249.5 172.1,249.6 172.5,249.7 172.9,249.8 173.3,249.9 173.6,250.0 174.0,250.0 174.4,250.1 174.8,250.1 175.2,250.2 175.6,250.2 176.0,250.3 176.3,250.3 176.7,250.4 177.1,250.4 177.5,250.4 177.9,250.4 178.3,250.5 178.7,250.5 179.0,250.5 179.4,250.5 179.8,250.5 180.2,250.5 180.6,250.6 181.0,250.6 181.4,250.6 181.8,250.6 182.1,250.6 182.5,250.6 182.9,250.6 183.3,250.6 183.7,250.6 184.1,250.6 184.5,250.6 184.8,250.6 185.2,250.6 185.6,250.6 186.0,250.6 186.4,250.6 186.8,250.6 187.2,250.6 187.6,250.6 187.9,250.5 188.3,250.5 188.7,250.5 189.1,250.4 189.5,250.3 189.9,250.2 190.3,250.0 190.6,249.8 191.0,249.6 191.4,249.5 191.8,249.6 192.2,249.8 192.6,250.0 193.0,250.1 193.3,250.3 193.7,250.3 194.1,250.4 194.5,250.4 194.9,250.4 195.3,250.4 195.7,250.4 196.1,250.4 196.4,250.4 196.8,250.4 197.2,250.3 197.6,250.3 198.0,250.2 198.4,250.2 198.8,250.1 199.1,250.0 199.5,249.9 199.9,249.7 200.3,249.5 200.7,249.3 201.1,248.9 201.5,248.5 201.9,247.9 202.2,247.1 202.6,246.0 203.0,244.4 203.4,242.2 203.8,239.4 204.2,236.6 204.6,235.4 204.9,236.6 205.3,239.4 205.7,242.2 206.1,244.4 206.5,246.0 206.9,247.1 207.3,247.9 207.6,248.5 208.0,249.0 208.4,249.3 208.8,249.6 209.2,249.8 209.6,249.9 210.0,250.0 210.4,250.1 210.7,250.2 211.1,250.3 211.5,250.4 211.9,250.4 212.3,250.5 212.7,250.5 213.1,250.5 213.4,250.6 213.8,250.6 214.2,250.6 214.6,250.6 215.0,250.7 215.4,250.7 215.8,250.7 216.2,250.7 216.5,250.7 216.9,250.7 217.3,250.7 217.7,250.7 218.1,250.7 218.5,250.7 218.9,250.7 219.2,250.7 219.6,250.7 220.0,250.7 220.4,250.7 220.8,250.7 221.2,250.7 221.6,250.7 221.9,250.6 222.3,250.6 222.7,250.5 223.1,250.4 223.5,250.2 223.9,250.0 224.3,249.8 224.7,249.7 225.0,249.8 225.4,250.0 225.8,250.2 226.2,250.4 226.6,250.5 227.0,250.6 227.4,250.7 227.7,250.7 228.1,250.7 228.5,250.8 228.9,250.8 229.3,250.8 229.7,250.8 230.1,250.8 230.5,250.8 230.8,250.8 231.2,250.9 231.6,250.9 232.0,250.9 232.4,250.9 232.8,250.9 233.2,250.9 233.5,250.9 233.9,250.9 234.3,250.9 234.7,250.9 235.1,250.9 235.5,250.9 235.9,250.9 236.3,250.9 236.6,250.9 237.0,250.9 237.4,250.9 237.8,250.9 238.2,250.9 238.6,250.9 239.0,250.9 239.3,250.9 239.7,250.9 240.1,250.9 240.5,250.9 240.9,250.9 241.3,250.9 241.7,250.9 242.0,250.9 242.4,250.9 242.8,250.9 243.2,250.9 243.6,250.9 244.0,250.9 244.4,250.9 244.8,250.9 245.1,250.9 245.5,250.9 245.9,250.9 246.3,250.9 246.7,250.9 247.1,250.9 247.5,250.9 247.8,250.9 248.2,250.9 248.6,250.9 249.0,250.9 249.4,250.9 249.8,250.9 250.2,250.9 250.6,250.9 250.9,250.9 251.3,250.9 251.7,250.9 252.1,250.9 252.5,250.9 252.9,250.9 253.3,250.8 253.6,250.8 254.0,250.8 254.4,250.8 254.8,250.8 255.2,250.8 255.6,250.8 256.0,250.8 256.3,250.8 256.7,250.8 257.1,250.8 257.5,250.8 257.9,250.8 258.3,250.8 258.7,250.7 259.1,250.7 259.4,250.7 259.8,250.7 260.2,250.7 260.6,250.7 261.0,250.6 261.4,250.6 261.8,250.6 262.1,250.6 262.5,250.5 262.9,250.5 263.3,250.4 263.7,250.4 264.1,250.3 264.5,250.3 264.9,250.2 265.2,250.1 265.6,249.9 266.0,249.8 266.4,249.6 266.8,249.4 267.2,249.1 267.6,248.7 267.9,248.2 268.3,247.5 268.7,246.6 269.1,245.2 269.5,243.4 269.9,240.8 270.3,237.6 270.6,234.4 271.0,232.9 271.4,234.4 271.8,237.6 272.2,240.8 272.6,243.4 273.0,245.2 273.4,246.6 273.7,247.5 274.1,248.2 274.5,248.7 274.9,249.1 275.3,249.4 275.7,249.6 276.1,249.8 276.4,249.9 276.8,250.0 277.2,250.1 277.6,250.2 278.0,250.3 278.4,250.4 278.8,250.4 279.2,250.5 279.5,250.5 279.9,250.5 280.3,250.6 280.7,250.6 281.1,250.6 281.5,250.6 281.9,250.6 282.2,250.7 282.6,250.7 283.0,250.7 283.4,250.7 283.8,250.7 284.2,250.7 284.6,250.7 284.9,250.7 285.3,250.7 285.7,250.7 286.1,250.7 286.5,250.7 286.9,250.7 287.3,250.7 287.7,250.7 288.0,250.7 288.4,250.7 288.8,250.7 289.2,250.7 289.6,250.7 290.0,250.7 290.4,250.7 290.7,250.7 291.1,250.7 291.5,250.7 291.9,250.7 292.3,250.7 292.7,250.7 293.1,250.6 293.5,250.6 293.8,250.6 294.2,250.6 294.6,250.6 295.0,250.5 295.4,250.5 295.8,250.5 296.2,250.5 296.5,250.4 296.9,250.4 297.3,250.3 297.7,250.3 298.1,250.2 298.5,250.1 298.9,250.0 299.2,249.9 299.6,249.8 300.0,249.7 300.4,249.5 300.8,249.3 301.2,249.0 301.6,248.7 302.0,248.2 302.3,247.7 302.7,247.0 303.1,246.0 303.5,244.6 303.9,242.7 304.3,240.0 304.7,236.3 305.0,231.6 305.4,227.0 305.8,224.9 306.2,227.0 306.6,231.6 307.0,236.3 307.4,240.0 307.8,242.7 308.1,244.6 308.5,246.0 308.9,247.0 309.3,247.7 309.7,248.3 310.1,248.7 310.5,249.0 310.8,249.3 311.2,249.5 311.6,249.7 312.0,249.8 312.4,249.9 312.8,250.1 313.2,250.1 313.6,250.2 313.9,250.3 314.3,250.3 314.7,250.4 315.1,250.4 315.5,250.5 315.9,250.5 316.3,250.5 316.6,250.6 317.0,250.6 317.4,250.6 317.8,250.6 318.2,250.6 318.6,250.7 319.0,250.7 319.3,250.7 319.7,250.7 320.1,250.7 320.5,250.7 320.9,250.7 321.3,250.7 321.7,250.7 322.1,250.7 322.4,250.7 322.8,250.8 323.2,250.8 323.6,250.8 324.0,250.8 324.4,250.8 324.8,250.8 325.1,250.7 325.5,250.7 325.9,250.7 326.3,250.7 326.7,250.7 327.1,250.7 327.5,250.7 327.9,250.6 328.2,250.6 328.6,250.6 329.0,250.5 329.4,250.4 329.8,250.3 330.2,250.2 330.6,250.0 330.9,249.8 331.3,249.4 331.7,248.9 332.1,248.3 332.5,247.7 332.9,247.4 333.3,247.7 333.6,248.3 334.0,248.9 334.4,249.4 334.8,249.8 335.2,250.1 335.6,250.2 336.0,250.4 336.4,250.5 336.7,250.5 337.1,250.6 337.5,250.7 337.9,250.7 338.3,250.7 338.7,250.7 339.1,250.8 339.4,250.8 339.8,250.8 340.2,250.8 340.6,250.8 341.0,250.8 341.4,250.8 341.8,250.8 342.2,250.8 342.5,250.9 342.9,250.9 343.3,250.9 343.7,250.9 344.1,250.9 344.5,250.9 344.9,250.9 345.2,250.9 345.6,250.9 346.0,250.9 346.4,250.9 346.8,250.9 347.2,250.9 347.6,250.9 347.9,250.9 348.3,250.9 348.7,250.9 349.1,250.9 349.5,250.9 349.9,250.9 350.3,250.9 350.7,250.9 351.0,250.9 351.4,250.9 351.8,250.9 352.2,250.9 352.6,250.9 353.0,250.9 353.4,250.9 353.7,250.9 354.1,250.9 354.5,250.9 354.9,250.9 355.3,250.9 355.7,250.8 356.1,250.8 356.5,250.8 356.8,250.8 357.2,250.8 357.6,250.8 358.0,250.8 358.4,250.8 358.8,250.8 359.2,250.8 359.5,250.8 359.9,250.8 360.3,250.8 360.7,250.8 361.1,250.7 361.5,250.7 361.9,250.7 362.2,250.7 362.6,250.7 363.0,250.6 363.4,250.6 363.8,250.6 364.2,250.5 364.6,250.5 365.0,250.4 365.3,250.4 365.7,250.3 366.1,250.2 366.5,250.1 366.9,250.0 367.3,249.8 367.7,249.6 368.0,249.4 368.4,249.0 368.8,248.6 369.2,248.0 369.6,247.1 370.0,245.8 370.4,244.1 370.8,241.9 371.1,239.8 371.5,238.8 371.9,239.8 372.3,241.9 372.7,244.1 373.1,245.8 373.5,247.0 373.8,247.8 374.2,248.5 374.6,248.9 375.0,249.2 375.4,249.4 375.8,249.6 376.2,249.7 376.5,249.8 376.9,249.9 377.3,249.9 377.7,249.9 378.1,249.9 378.5,249.8 378.9,249.8 379.3,249.7 379.6,249.5 380.0,249.4 380.4,249.1 380.8,248.8 381.2,248.3 381.6,247.6 382.0,246.7 382.3,245.4 382.7,243.5 383.1,241.2 383.5,238.9 383.9,237.8 384.3,238.9 384.7,241.2 385.1,243.6 385.4,245.4 385.8,246.8 386.2,247.7 386.6,248.4 387.0,248.9 387.4,249.3 387.8,249.6 388.1,249.8 388.5,249.9 388.9,250.1 389.3,250.2 389.7,250.3 390.1,250.4 390.5,250.4 390.9,250.5 391.2,250.5 391.6,250.6 392.0,250.6 392.4,250.6 392.8,250.7 393.2,250.7 393.6,250.7 393.9,250.7 394.3,250.7 394.7,250.8 395.1,250.8 395.5,250.8 395.9,250.8 396.3,250.8 396.6,250.8 397.0,250.8 397.4,250.8 397.8,250.8 398.2,250.8 398.6,250.9 399.0,250.9 399.4,250.9 399.7,250.9 400.1,250.9 400.5,250.9 400.9,250.9 401.3,250.9 401.7,250.9 402.1,250.9 402.4,250.9 402.8,250.9 403.2,250.9 403.6,250.9 404.0,250.9 404.4,250.9 404.8,250.9 405.2,250.9 405.5,250.9 405.9,250.9 406.3,250.9 406.7,250.9 407.1,250.9 407.5,250.9 407.9,250.9 408.2,250.9 408.6,250.9 409.0,250.9 409.4,250.9 409.8,250.9 410.2,250.9 410.6,250.9 410.9,250.9 411.3,250.9 411.7,250.9 412.1,250.9 412.5,250.9 412.9,250.9 413.3,250.9 413.7,250.9 414.0,250.9 414.4,250.9 414.8,250.9 415.2,250.9 415.6,250.9 416.0,250.9 416.4,250.9 416.7,250.9 417.1,250.9 417.5,250.9 417.9,250.9 418.3,250.9 418.7,250.9 419.1,250.9 419.5,250.9 419.8,250.9 420.2,250.9 420.6,250.9 421.0,250.9 421.4,250.9 421.8,250.9 422.2,250.9 422.5,250.9 422.9,250.8 423.3,250.8 423.7,250.8 424.1,250.7 424.5,250.7 424.9,250.6 425.2,250.4 425.6,250.2 426.0,250.1 426.4,250.0 426.8,250.1 427.2,250.2 427.6,250.4 428.0,250.6 428.3,250.7 428.7,250.7" fill="none" stroke="#0a0a50" stroke-width="0.8" stroke-linejoin="round" opacity="0.7"/>
<polyline points="47.6,315.0 48.0,315.0 48.4,315.0 48.8,315.0 49.2,315.0 49.6,315.0 50.0,315.0 50.3,315.0 50.7,315.0 51.1,315.0 51.5,315.0 51.9,315.0 52.3,315.0 52.7,315.0 53.0,315.0 53.4,315.0 53.8,315.0 54.2,315.0 54.6,315.0 55.0,315.0 55.4,315.0 55.8,315.0 56.1,315.0 56.5,315.0 56.9,315.0 57.3,315.0 57.7,315.0 58.1,315.0 58.5,315.0 58.8,315.0 59.2,315.0 59.6,315.0 60.0,315.0 60.4,315.0 60.8,315.0 61.2,315.0 61.6,315.0 61.9,315.0 62.3,315.0 62.7,315.0 63.1,315.0 63.5,315.0 63.9,315.0 64.3,315.0 64.6,315.0 65.0,315.0 65.4,315.0 65.8,315.0 66.2,315.0 66.6,315.0 67.0,315.0 67.3,315.0 67.7,315.0 68.1,315.0 68.5,315.0 68.9,315.0 69.3,315.0 69.7,315.0 70.1,315.0 70.4,315.0 70.8,315.0 71.2,315.0 71.6,315.0 72.0,315.0 72.4,315.0 72.8,315.0 73.1,315.0 73.5,315.0 73.9,315.0 74.3,315.0 74.7,315.0 75.1,315.0 75.5,315.0 75.9,315.0 76.2,315.0 76.6,315.0 77.0,315.0 77.4,315.0 77.8,315.0 78.2,315.0 78.6,315.0 78.9,315.0 79.3,315.0 79.7,315.0 80.1,315.0 80.5,315.0 80.9,315.0 81.3,315.0 81.7,315.0 82.0,315.0 82.4,315.0 82.8,315.0 83.2,315.0 83.6,315.0 84.0,315.0 84.4,315.0 84.7,315.0 85.1,315.0 85.5,315.0 85.9,315.0 86.3,315.0 86.7,315.0 87.1,315.0 87.4,315.0 87.8,315.0 88.2,315.0 88.6,315.0 89.0,315.0 89.4,315.0 89.8,315.0 90.2,315.0 90.5,315.0 90.9,315.0 91.3,315.0 91.7,315.0 92.1,315.0 92.5,315.0 92.9,315.0 93.2,315.0 93.6,315.0 94.0,315.0 94.4,315.0 94.8,315.0 95.2,315.0 95.6,315.0 96.0,315.0 96.3,315.0 96.7,315.0 97.1,315.0 97.5,315.0 97.9,315.0 98.3,315.0 98.7,315.0 99.0,315.0 99.4,315.0 99.8,315.0 100.2,315.0 100.6,315.0 101.0,315.0 101.4,315.0 101.7,315.0 102.1,315.0 102.5,315.0 102.9,315.0 103.3,315.0 103.7,315.0 104.1,315.0 104.5,315.0 104.8,315.0 105.2,315.0 105.6,315.0 106.0,315.0 106.4,315.0 106.8,315.0 107.2,315.0 107.5,315.0 107.9,315.0 108.3,315.0 108.7,315.0 109.1,315.0 109.5,315.0 109.9,315.0 110.3,315.0 110.6,315.0 111.0,315.0 111.4,315.0 111.8,315.0 112.2,315.0 112.6,315.0 113.0,315.0 113.3,315.0 113.7,315.0 114.1,315.0 114.5,315.0 114.9,315.0 115.3,315.0 115.7,315.0 116.0,315.0 116.4,315.0 116.8,315.0 117.2,315.0 117.6,315.0 118.0,315.0 118.4,315.0 118.8,315.0 119.1,315.0 119.5,315.0 119.9,315.0 120.3,315.0 120.7,315.0 121.1,315.0 121.5,315.0 121.8,315.0 122.2,315.0 122.6,315.0 123.0,315.0 123.4,315.0 123.8,315.0 124.2,315.0 124.6,315.0 124.9,315.0 125.3,315.0 125.7,314.9 126.1,314.9 126.5,314.9 126.9,314.9 127.3,314.9 127.6,314.9 128.0,314.9 128.4,314.9 128.8,314.9 129.2,314.9 129.6,314.9 130.0,314.9 130.3,314.9 130.7,314.9 131.1,314.9 131.5,314.9 131.9,314.9 132.3,314.9 132.7,314.9 133.1,314.9 133.4,314.9 133.8,314.9 134.2,314.9 134.6,314.9 135.0,314.9 135.4,314.9 135.8,314.9 136.1,314.9 136.5,314.9 136.9,314.9 137.3,314.9 137.7,314.9 138.1,314.9 138.5,314.9 138.9,314.9 139.2,314.9 139.6,314.9 140.0,314.9 140.4,314.9 140.8,314.9 141.2,314.9 141.6,314.9 141.9,314.9 142.3,314.9 142.7,314.9 143.1,314.9 143.5,314.9 143.9,314.9 144.3,314.9 144.6,314.9 145.0,314.9 145.4,314.9 145.8,314.9 146.2,314.9 146.6,314.9 147.0,314.9 147.4,314.9 147.7,314.9 148.1,314.9 148.5,314.9 148.9,314.9 149.3,314.9 149.7,314.9 150.1,314.8 150.4,314.8 150.8,314.8 151.2,314.8 151.6,314.8 152.0,314.8 152.4,314.8 152.8,314.8 153.2,314.8 153.5,314.8 153.9,314.8 154.3,314.8 154.7,314.8 155.1,314.8 155.5,314.8 155.9,314.8 156.2,314.8 156.6,314.7 157.0,314.7 157.4,314.7 157.8,314.7 158.2,314.7 158.6,314.7 159.0,314.7 159.3,314.7 159.7,314.7 160.1,314.6 160.5,314.6 160.9,314.6 161.3,314.6 161.7,314.6 162.0,314.6 162.4,314.5 162.8,314.5 163.2,314.5 163.6,314.5 164.0,314.4 164.4,314.4 164.7,314.3 165.1,314.3 165.5,314.3 165.9,314.2 166.3,314.2 166.7,314.1 167.1,314.0 167.5,314.0 167.8,313.9 168.2,313.8 168.6,313.7 169.0,313.5 169.4,313.4 169.8,313.2 170.2,313.0 170.5,312.8 170.9,312.5 171.3,312.2 171.7,311.7 172.1,311.2 172.5,310.6 172.9,309.8 173.3,308.8 173.6,307.5 174.0,305.8 174.4,303.6 174.8,300.5 175.2,296.4 175.6,291.3 176.0,285.3 176.3,280.1 176.7,277.9 177.1,280.1 177.5,285.3 177.9,291.2 178.3,296.4 178.7,300.5 179.0,303.5 179.4,305.8 179.8,307.5 180.2,308.8 180.6,309.8 181.0,310.6 181.4,311.2 181.8,311.7 182.1,312.1 182.5,312.5 182.9,312.7 183.3,313.0 183.7,313.2 184.1,313.3 184.5,313.5 184.8,313.6 185.2,313.7 185.6,313.8 186.0,313.9 186.4,314.0 186.8,314.0 187.2,314.1 187.6,314.1 187.9,314.2 188.3,314.2 188.7,314.3 189.1,314.3 189.5,314.3 189.9,314.4 190.3,314.4 190.6,314.4 191.0,314.4 191.4,314.4 191.8,314.5 192.2,314.5 192.6,314.5 193.0,314.5 193.3,314.5 193.7,314.5 194.1,314.5 194.5,314.5 194.9,314.6 195.3,314.6 195.7,314.6 196.1,314.6 196.4,314.6 196.8,314.6 197.2,314.6 197.6,314.6 198.0,314.6 198.4,314.6 198.8,314.6 199.1,314.6 199.5,314.6 199.9,314.6 200.3,314.6 200.7,314.6 201.1,314.6 201.5,314.5 201.9,314.5 202.2,314.5 202.6,314.5 203.0,314.5 203.4,314.5 203.8,314.5 204.2,314.5 204.6,314.5 204.9,314.5 205.3,314.4 205.7,314.4 206.1,314.4 206.5,314.4 206.9,314.4 207.3,314.3 207.6,314.3 208.0,314.3 208.4,314.3 208.8,314.2 209.2,314.2 209.6,314.1 210.0,314.1 210.4,314.0 210.7,314.0 211.1,313.9 211.5,313.9 211.9,313.8 212.3,313.7 212.7,313.6 213.1,313.5 213.4,313.4 213.8,313.3 214.2,313.2 214.6,313.0 215.0,312.8 215.4,312.6 215.8,312.4 216.2,312.1 216.5,311.8 216.9,311.4 217.3,311.0 217.7,310.4 218.1,309.8 218.5,308.9 218.9,307.9 219.2,306.7 219.6,305.1 220.0,302.9 220.4,300.2 220.8,296.5 221.2,291.5 221.6,285.0 221.9,276.6 222.3,267.0 222.7,258.5 223.1,255.0 223.5,258.5 223.9,267.0 224.3,276.6 224.7,285.0 225.0,291.5 225.4,296.5 225.8,300.2 226.2,303.0 226.6,305.1 227.0,306.7 227.4,308.0 227.7,309.0 228.1,309.8 228.5,310.4 228.9,311.0 229.3,311.4 229.7,311.8 230.1,312.1 230.5,312.4 230.8,312.7 231.2,312.9 231.6,313.0 232.0,313.2 232.4,313.3 232.8,313.5 233.2,313.6 233.5,313.7 233.9,313.8 234.3,313.8 234.7,313.9 235.1,314.0 235.5,314.0 235.9,314.1 236.3,314.2 236.6,314.2 237.0,314.2 237.4,314.3 237.8,314.3 238.2,314.3 238.6,314.4 239.0,314.4 239.3,314.4 239.7,314.5 240.1,314.5 240.5,314.5 240.9,314.5 241.3,314.5 241.7,314.6 242.0,314.6 242.4,314.6 242.8,314.6 243.2,314.6 243.6,314.6 244.0,314.6 244.4,314.7 244.8,314.7 245.1,314.7 245.5,314.7 245.9,314.7 246.3,314.7 246.7,314.7 247.1,314.7 247.5,314.7 247.8,314.7 248.2,314.8 248.6,314.8 249.0,314.8 249.4,314.8 249.8,314.8 250.2,314.8 250.6,314.8 250.9,314.8 251.3,314.8 251.7,314.8 252.1,314.8 252.5,314.8 252.9,314.8 253.3,314.8 253.6,314.8 254.0,314.8 254.4,314.8 254.8,314.8 255.2,314.8 255.6,314.8 256.0,314.8 256.3,314.9 256.7,314.9 257.1,314.9 257.5,314.9 257.9,314.9 258.3,314.9 258.7,314.9 259.1,314.9 259.4,314.9 259.8,314.9 260.2,314.9 260.6,314.9 261.0,314.9 261.4,314.9 261.8,314.9 262.1,314.9 262.5,314.9 262.9,314.9 263.3,314.9 263.7,314.9 264.1,314.9 264.5,314.9 264.9,314.9 265.2,314.9 265.6,314.9 266.0,314.9 266.4,314.9 266.8,314.9 267.2,314.9 267.6,314.9 267.9,314.9 268.3,314.9 268.7,314.9 269.1,314.9 269.5,314.9 269.9,314.9 270.3,314.9 270.6,314.9 271.0,314.9 271.4,314.9 271.8,314.9 272.2,314.9 272.6,314.9 273.0,314.9 273.4,314.9 273.7,314.9 274.1,314.9 274.5,314.9 274.9,314.9 275.3,314.9 275.7,314.9 276.1,314.9 276.4,314.9 276.8,314.9 277.2,314.9 277.6,314.9 278.0,314.9 278.4,314.9 278.8,314.9 279.2,314.9 279.5,314.9 279.9,314.9 280.3,314.9 280.7,314.9 281.1,314.9 281.5,314.9 281.9,314.9 282.2,314.9 282.6,314.9 283.0,314.9 283.4,314.9 283.8,314.9 284.2,314.9 284.6,314.9 284.9,314.9 285.3,314.9 285.7,314.9 286.1,314.9 286.5,314.9 286.9,314.9 287.3,314.9 287.7,314.9 288.0,314.9 288.4,314.9 288.8,314.9 289.2,314.9 289.6,314.9 290.0,314.9 290.4,314.9 290.7,314.9 291.1,314.9 291.5,314.9 291.9,315.0 292.3,315.0 292.7,315.0 293.1,315.0 293.5,315.0 293.8,315.0 294.2,315.0 294.6,315.0 295.0,315.0 295.4,315.0 295.8,315.0 296.2,315.0 296.5,315.0 296.9,315.0 297.3,315.0 297.7,315.0 298.1,315.0 298.5,315.0 298.9,315.0 299.2,315.0 299.6,315.0 300.0,315.0 300.4,315.0 300.8,315.0 301.2,315.0 301.6,315.0 302.0,315.0 302.3,315.0 302.7,315.0 303.1,315.0 303.5,315.0 303.9,315.0 304.3,315.0 304.7,315.0 305.0,315.0 305.4,315.0 305.8,315.0 306.2,315.0 306.6,315.0 307.0,315.0 307.4,315.0 307.8,315.0 308.1,315.0 308.5,315.0 308.9,315.0 309.3,315.0 309.7,315.0 310.1,315.0 310.5,315.0 310.8,315.0 311.2,315.0 311.6,315.0 312.0,315.0 312.4,315.0 312.8,315.0 313.2,315.0 313.6,315.0 313.9,315.0 314.3,315.0 314.7,315.0 315.1,315.0 315.5,315.0 315.9,315.0 316.3,315.0 316.6,315.0 317.0,315.0 317.4,315.0 317.8,315.0 318.2,315.0 318.6,315.0 319.0,315.0 319.3,315.0 319.7,315.0 320.1,315.0 320.5,315.0 320.9,315.0 321.3,314.9 321.7,314.9 322.1,314.9 322.4,314.9 322.8,314.9 323.2,314.9 323.6,314.9 324.0,314.9 324.4,314.9 324.8,314.9 325.1,314.9 325.5,314.9 325.9,314.9 326.3,314.9 326.7,314.9 327.1,314.9 327.5,314.9 327.9,314.9 328.2,314.9 328.6,314.9 329.0,314.9 329.4,314.9 329.8,314.9 330.2,314.9 330.6,314.9 330.9,314.9 331.3,314.9 331.7,314.9 332.1,314.9 332.5,314.9 332.9,314.9 333.3,314.9 333.6,314.9 334.0,314.9 334.4,314.9 334.8,314.9 335.2,314.9 335.6,314.9 336.0,314.9 336.4,314.9 336.7,314.9 337.1,314.9 337.5,314.9 337.9,314.9 338.3,314.9 338.7,314.9 339.1,314.9 339.4,314.9 339.8,314.9 340.2,314.9 340.6,314.9 341.0,314.9 341.4,314.9 341.8,314.9 342.2,314.9 342.5,314.9 342.9,314.9 343.3,314.9 343.7,314.9 344.1,314.9 344.5,314.9 344.9,314.9 345.2,314.9 345.6,314.9 346.0,314.9 346.4,314.9 346.8,314.9 347.2,314.9 347.6,314.9 347.9,314.9 348.3,314.9 348.7,314.9 349.1,314.9 349.5,314.8 349.9,314.8 350.3,314.8 350.7,314.8 351.0,314.8 351.4,314.8 351.8,314.8 352.2,314.8 352.6,314.8 353.0,314.8 353.4,314.8 353.7,314.8 354.1,314.8 354.5,314.8 354.9,314.8 355.3,314.8 355.7,314.7 356.1,314.7 356.5,314.7 356.8,314.7 357.2,314.7 357.6,314.7 358.0,314.7 358.4,314.7 358.8,314.6 359.2,314.6 359.5,314.6 359.9,314.6 360.3,314.6 360.7,314.5 361.1,314.5 361.5,314.5 361.9,314.5 362.2,314.4 362.6,314.4 363.0,314.3 363.4,314.3 363.8,314.3 364.2,314.2 364.6,314.1 365.0,314.1 365.3,314.0 365.7,313.9 366.1,313.8 366.5,313.7 366.9,313.6 367.3,313.4 367.7,313.2 368.0,313.0 368.4,312.8 368.8,312.5 369.2,312.2 369.6,311.8 370.0,311.3 370.4,310.7 370.8,309.9 371.1,308.9 371.5,307.6 371.9,305.9 372.3,303.6 372.7,300.6 373.1,296.5 373.5,291.3 373.8,285.4 374.2,280.2 374.6,278.0 375.0,280.2 375.4,285.4 375.8,291.3 376.2,296.5 376.5,300.6 376.9,303.6 377.3,305.9 377.7,307.6 378.1,308.9 378.5,309.9 378.9,310.7 379.3,311.3 379.6,311.8 380.0,312.2 380.4,312.5 380.8,312.8 381.2,313.1 381.6,313.3 382.0,313.4 382.3,313.6 382.7,313.7 383.1,313.8 383.5,313.9 383.9,314.0 384.3,314.1 384.7,314.1 385.1,314.2 385.4,314.3 385.8,314.3 386.2,314.3 386.6,314.4 387.0,314.4 387.4,314.5 387.8,314.5 388.1,314.5 388.5,314.5 388.9,314.6 389.3,314.6 389.7,314.6 390.1,314.6 390.5,314.6 390.9,314.7 391.2,314.7 391.6,314.7 392.0,314.7 392.4,314.7 392.8,314.7 393.2,314.7 393.6,314.7 393.9,314.8 394.3,314.8 394.7,314.8 395.1,314.8 395.5,314.8 395.9,314.8 396.3,314.8 396.6,314.8 397.0,314.8 397.4,314.8 397.8,314.8 398.2,314.8 398.6,314.8 399.0,314.8 399.4,314.8 399.7,314.9 400.1,314.9 400.5,314.9 400.9,314.9 401.3,314.9 401.7,314.9 402.1,314.9 402.4,314.9 402.8,314.9 403.2,314.9 403.6,314.9 404.0,314.9 404.4,314.9 404.8,314.9 405.2,314.9 405.5,314.9 405.9,314.9 406.3,314.9 406.7,314.9 407.1,314.9 407.5,314.9 407.9,314.9 408.2,314.9 408.6,314.9 409.0,314.9 409.4,314.9 409.8,314.9 410.2,314.9 410.6,314.9 410.9,314.9 411.3,314.9 411.7,314.9 412.1,314.9 412.5,314.9 412.9,314.9 413.3,314.9 413.7,314.9 414.0,314.9 414.4,314.9 414.8,314.9 415.2,314.9 415.6,314.9 416.0,314.9 416.4,314.9 416.7,314.9 417.1,314.9 417.5,314.9 417.9,314.9 418.3,314.9 418.7,314.9 419.1,315.0 419.5,315.0 419.8,315.0 420.2,315.0 420.6,315.0 421.0,315.0 421.4,315.0 421.8,315.0 422.2,315.0 422.5,315.0 422.9,315.0 423.3,315.0 423.7,315.0 424.1,315.0 424.5,315.0 424.9,315.0 425.2,315.0 425.6,315.0 426.0,315.0 426.4,315.0 426.8,315.0 427.2,315.0 427.6,315.0 428.0,315.0 428.3,315.0 428.7,315.0" fill="none" stroke="#000" stroke-width="2.2" stroke-linejoin="round"/>
<rect x="43.0" y="46.5" width="386.5" height="275.0" fill="none" stroke="#000" stroke-width="1.6"/>
<line x1="43.0" y1="321.5" x2="43.0" y2="316.5" stroke="#000" stroke-width="1.3"/>
<line x1="81.7" y1="321.5" x2="81.7" y2="318.5" stroke="#000" stroke-width="1.3"/>
<line x1="120.3" y1="321.5" x2="120.3" y2="316.5" stroke="#000" stroke-width="1.3"/>
<line x1="158.9" y1="321.5" x2="158.9" y2="318.5" stroke="#000" stroke-width="1.3"/>
<line x1="197.6" y1="321.5" x2="197.6" y2="316.5" stroke="#000" stroke-width="1.3"/>
<line x1="236.2" y1="321.5" x2="236.2" y2="318.5" stroke="#000" stroke-width="1.3"/>
<line x1="274.9" y1="321.5" x2="274.9" y2="316.5" stroke="#000" stroke-width="1.3"/>
<line x1="313.6" y1="321.5" x2="313.6" y2="318.5" stroke="#000" stroke-width="1.3"/>
<line x1="352.2" y1="321.5" x2="352.2" y2="316.5" stroke="#000" stroke-width="1.3"/>
<line x1="390.9" y1="321.5" x2="390.9" y2="318.5" stroke="#000" stroke-width="1.3"/>
<line x1="429.5" y1="321.5" x2="429.5" y2="316.5" stroke="#000" stroke-width="1.3"/>
<text x="43.0" y="338" font-size="12.5" text-anchor="middle" fill="#111" font-family="'Liberation Sans', Arial, sans-serif">20</text>
<text x="120.3" y="338" font-size="12.5" text-anchor="middle" fill="#111" font-family="'Liberation Sans', Arial, sans-serif">30</text>
<text x="197.6" y="338" font-size="12.5" text-anchor="middle" fill="#111" font-family="'Liberation Sans', Arial, sans-serif">40</text>
<text x="274.9" y="338" font-size="12.5" text-anchor="middle" fill="#111" font-family="'Liberation Sans', Arial, sans-serif">50</text>
<text x="352.2" y="338" font-size="12.5" text-anchor="middle" fill="#111" font-family="'Liberation Sans', Arial, sans-serif">60</text>
<text x="429.5" y="338" font-size="12.5" text-anchor="middle" fill="#111" font-family="'Liberation Sans', Arial, sans-serif">70</text>
<text x="225" y="359" font-size="15" text-anchor="middle" fill="#111" font-family="'Liberation Sans', Arial, sans-serif">2θ /°</text>
<text transform="translate(31,190) rotate(-90)" font-size="14.6" text-anchor="middle" fill="#111" font-family="'Liberation Sans', Arial, sans-serif">intensity /a.u.</text>
<text x="52" y="72" font-size="11.4" fill="#c22020" font-family="'Liberation Sans', Arial, sans-serif" xml:space="preserve">sample treated at  800°C</text>
<text x="52" y="131" font-size="11.4" fill="#1c1c70" font-family="'Liberation Sans', Arial, sans-serif" xml:space="preserve">sample treated at  600°C</text>
<text x="51" y="177" font-size="11.5" fill="#2a2aa8" font-family="'Liberation Sans', Arial, sans-serif">NiTiO<tspan font-size="7" dy="2.5">3</tspan></text>
<text x="48" y="194" font-size="11.5" fill="#2a2aa8" font-family="'Liberation Sans', Arial, sans-serif">PDF No.89-7131</text>
<text x="56" y="268" font-size="11.3" fill="#111" font-family="'Liberation Sans', Arial, sans-serif">NiO</text>
<text x="56" y="282" font-size="11.3" fill="#111" font-family="'Liberation Sans', Arial, sans-serif">PDF No.3–1154</text>
<text transform="translate(77.7,224.0) rotate(-90)" font-size="8.8" font-weight="bold" fill="#1a1a1a" stroke="#1a1a1a" stroke-width="0.25" font-family="'Liberation Sans', Arial, sans-serif"><tspan fill="#999" stroke="none" font-weight="normal" font-size="7">(</tspan><tspan dx="1.2">012</tspan><tspan fill="#999" stroke="none" font-weight="normal" font-size="7" dx="0.6">)</tspan></text>
<text transform="translate(147.3,190.0) rotate(-90)" font-size="8.8" font-weight="bold" fill="#1a1a1a" stroke="#1a1a1a" stroke-width="0.25" font-family="'Liberation Sans', Arial, sans-serif"><tspan fill="#999" stroke="none" font-weight="normal" font-size="7">(</tspan><tspan dx="1.2">104</tspan><tspan fill="#999" stroke="none" font-weight="normal" font-size="7" dx="0.6">)</tspan></text>
<text transform="translate(170.4,204.5) rotate(-90)" font-size="8.8" font-weight="bold" fill="#1a1a1a" stroke="#1a1a1a" stroke-width="0.25" font-family="'Liberation Sans', Arial, sans-serif"><tspan fill="#999" stroke="none" font-weight="normal" font-size="7">(</tspan><tspan dx="1.2">110</tspan><tspan fill="#999" stroke="none" font-weight="normal" font-size="7" dx="0.6">)</tspan></text>
<text transform="translate(207.6,230.0) rotate(-90)" font-size="8.8" font-weight="bold" fill="#1a1a1a" stroke="#1a1a1a" stroke-width="0.25" font-family="'Liberation Sans', Arial, sans-serif"><tspan fill="#999" stroke="none" font-weight="normal" font-size="7">(</tspan><tspan dx="1.2">113</tspan><tspan fill="#999" stroke="none" font-weight="normal" font-size="7" dx="0.6">)</tspan></text>
<text transform="translate(274.0,229.0) rotate(-90)" font-size="8.8" font-weight="bold" fill="#1a1a1a" stroke="#1a1a1a" stroke-width="0.25" font-family="'Liberation Sans', Arial, sans-serif"><tspan fill="#999" stroke="none" font-weight="normal" font-size="7">(</tspan><tspan dx="1.2">014</tspan><tspan fill="#999" stroke="none" font-weight="normal" font-size="7" dx="0.6">)</tspan></text>
<text transform="translate(308.8,223.0) rotate(-90)" font-size="8.8" font-weight="bold" fill="#1a1a1a" stroke="#1a1a1a" stroke-width="0.25" font-family="'Liberation Sans', Arial, sans-serif"><tspan fill="#999" stroke="none" font-weight="normal" font-size="7">(</tspan><tspan dx="1.2">116</tspan><tspan fill="#999" stroke="none" font-weight="normal" font-size="7" dx="0.6">)</tspan></text>
<text transform="translate(335.9,243.0) rotate(-90)" font-size="8.8" font-weight="bold" fill="#1a1a1a" stroke="#1a1a1a" stroke-width="0.25" font-family="'Liberation Sans', Arial, sans-serif"><tspan fill="#999" stroke="none" font-weight="normal" font-size="7">(</tspan><tspan dx="1.2">018</tspan><tspan fill="#999" stroke="none" font-weight="normal" font-size="7" dx="0.6">)</tspan></text>
<text transform="translate(373.0,239.0) rotate(-90)" font-size="8.8" font-weight="bold" fill="#1a1a1a" stroke="#1a1a1a" stroke-width="0.25" font-family="'Liberation Sans', Arial, sans-serif"><tspan fill="#999" stroke="none" font-weight="normal" font-size="7">(</tspan><tspan dx="1.2">220</tspan><tspan fill="#999" stroke="none" font-weight="normal" font-size="7" dx="0.6">)</tspan></text>
<text transform="translate(387.7,238.0) rotate(-90)" font-size="8.8" font-weight="bold" fill="#1a1a1a" stroke="#1a1a1a" stroke-width="0.25" font-family="'Liberation Sans', Arial, sans-serif"><tspan fill="#999" stroke="none" font-weight="normal" font-size="7">(</tspan><tspan dx="1.2">300</tspan><tspan fill="#999" stroke="none" font-weight="normal" font-size="7" dx="0.6">)</tspan></text>
<text transform="translate(179.7,278.0) rotate(-90)" font-size="8.8" font-weight="bold" fill="#1a1a1a" stroke="#1a1a1a" stroke-width="0.25" font-family="'Liberation Sans', Arial, sans-serif"><tspan fill="#999" stroke="none" font-weight="normal" font-size="7">(</tspan><tspan dx="1.2">111</tspan><tspan fill="#999" stroke="none" font-weight="normal" font-size="7" dx="0.6">)</tspan></text>
<text transform="translate(219.2,282.0) rotate(-90)" font-size="8.8" font-weight="bold" fill="#1a1a1a" stroke="#1a1a1a" stroke-width="0.25" font-family="'Liberation Sans', Arial, sans-serif"><tspan fill="#999" stroke="none" font-weight="normal" font-size="7">(</tspan><tspan dx="1.2">200</tspan><tspan fill="#999" stroke="none" font-weight="normal" font-size="7" dx="0.6">)</tspan></text>
<text transform="translate(377.6,275.0) rotate(-90)" font-size="8.8" font-weight="bold" fill="#1a1a1a" stroke="#1a1a1a" stroke-width="0.25" font-family="'Liberation Sans', Arial, sans-serif"><tspan fill="#999" stroke="none" font-weight="normal" font-size="7">(</tspan><tspan dx="1.2">220</tspan><tspan fill="#999" stroke="none" font-weight="normal" font-size="7" dx="0.6">)</tspan></text>
</g>
<g id="pa">
<path d="M53.1,428.9 C53.8,427.8 56.2,424.4 57.7,422.0 C59.2,419.6 61.0,416.0 62.3,414.6 C63.7,413.2 64.6,413.7 65.8,413.5 C66.9,413.2 67.1,413.5 69.2,413.0 C71.3,412.5 75.7,410.9 78.5,410.2 C81.2,409.6 84.6,409.3 85.8,409.1 L86.5,404.9 L87.2,415.8 L87.9,404.2 L88.6,416.5 L89.3,404.9 L90.0,414.6 L90.9,407.2 L91.8,412.8 L92.8,408.8 L93.9,411.8 L95.1,414.6 C95.4,415.2 96.2,416.5 96.9,418.1 C97.6,419.7 98.1,420.2 99.2,424.3 C100.4,428.4 102.3,436.3 103.8,442.8 C105.4,449.2 107.3,458.2 108.5,463.1 C109.6,468.0 110.0,470.2 110.8,472.3 C111.5,474.4 112.3,475.1 113.1,475.8 C113.8,476.5 114.2,476.9 115.4,476.5 C116.5,476.0 118.5,473.9 120.0,473.0 C121.5,472.1 123.3,471.2 124.6,471.2 C126.0,471.2 126.9,471.3 128.1,473.0 C129.2,474.7 130.4,478.4 131.5,481.5 C132.7,484.7 133.8,489.4 135.0,491.9 C136.2,494.4 137.1,495.3 138.5,496.5 C139.8,497.8 141.5,498.0 143.1,499.3 C144.6,500.7 146.2,503.0 147.7,504.6 C149.2,506.2 150.8,507.8 152.3,508.8 C153.8,509.8 155.4,510.2 156.9,510.6 C158.5,511.0 159.6,511.1 161.5,511.1 C163.5,511.0 166.2,511.1 168.5,510.4 C170.8,509.7 173.1,508.3 175.4,506.9 C177.7,505.6 179.6,503.8 182.3,502.3 C185.0,500.8 188.8,499.4 191.5,497.7 C194.2,496.0 196.2,493.8 198.5,491.9 C200.8,490.1 203.5,488.0 205.4,486.6 C207.3,485.2 208.7,483.5 210.0,483.4 C211.3,483.3 212.1,485.5 213.5,486.2 C214.8,486.8 216.0,487.3 218.1,487.3 C220.2,487.3 224.8,486.3 226.2,486.2" fill="none" stroke="#222" stroke-width="0.9" stroke-linejoin="round"/>
<line x1="92.3" y1="394.4" x2="121.7" y2="521.4" stroke="#8c3a3a" stroke-width="0.9"/>
<rect x="148.4" y="394.4" width="77.6" height="56" fill="#fff" stroke="#777" stroke-width="0.9"/>
<path d="M148.8,407.7 C149.4,407.1 151.0,405.1 152.3,404.2 C153.7,403.3 155.2,403.0 156.9,402.4 C158.7,401.8 161.7,401.0 162.7,400.8 L163.8,398.5 L164.5,403.1 L165.2,398.9 L165.9,402.6 L166.8,401.2 C167.1,401.9 167.8,403.2 168.5,405.4 C169.1,407.6 170.0,411.5 170.8,414.6 C171.5,417.8 172.3,421.8 173.1,424.3 C173.8,426.8 174.5,428.9 175.4,429.6 C176.2,430.3 177.2,428.8 178.2,428.5 C179.1,428.1 180.3,426.7 181.2,427.3 C182.0,427.9 182.4,430.2 183.0,431.9 C183.6,433.7 183.8,436.0 184.6,437.7 C185.5,439.4 186.5,441.0 188.1,442.3 C189.6,443.6 191.7,444.8 193.8,445.3 C196.0,445.8 198.5,446.1 200.8,445.3 C203.1,444.5 205.4,442.1 207.7,440.5 C210.0,438.8 212.9,436.5 214.6,435.4 C216.3,434.2 216.9,433.5 218.1,433.5 C219.2,433.5 220.2,435.1 221.5,435.4 C222.9,435.7 225.4,435.4 226.2,435.4" fill="none" stroke="#888" stroke-width="0.8"/>
<path d="M170.8,394.3 L189.2,450.4" fill="none" stroke="#8a8080" stroke-width="0.7"/>
<line x1="158.1" y1="450.4" x2="158.1" y2="449" stroke="#777" stroke-width="0.5"/>
<line x1="167.8" y1="450.4" x2="167.8" y2="449" stroke="#777" stroke-width="0.5"/>
<line x1="177.5" y1="450.4" x2="177.5" y2="449" stroke="#777" stroke-width="0.5"/>
<line x1="187.2" y1="450.4" x2="187.2" y2="449" stroke="#777" stroke-width="0.5"/>
<line x1="196.9" y1="450.4" x2="196.9" y2="449" stroke="#777" stroke-width="0.5"/>
<line x1="206.6" y1="450.4" x2="206.6" y2="449" stroke="#777" stroke-width="0.5"/>
<line x1="216.3" y1="450.4" x2="216.3" y2="449" stroke="#777" stroke-width="0.5"/>
<rect x="53.2" y="394.4" width="172.8" height="127.0" fill="none" stroke="#1a1a1a" stroke-width="1.3"/>
<line x1="53.2" y1="521.4" x2="55.7" y2="521.4" stroke="#222" stroke-width="0.8"/>
<text x="49.5" y="523.3" font-size="5.4" fill="#333" text-anchor="end" font-family="'Liberation Sans', Arial, sans-serif"  stroke="#333" stroke-width="0.28">0.0</text>
<line x1="53.2" y1="501.9" x2="55.7" y2="501.9" stroke="#222" stroke-width="0.8"/>
<text x="49.5" y="503.8" font-size="5.4" fill="#333" text-anchor="end" font-family="'Liberation Sans', Arial, sans-serif"  stroke="#333" stroke-width="0.28">0.2</text>
<line x1="53.2" y1="482.4" x2="55.7" y2="482.4" stroke="#222" stroke-width="0.8"/>
<text x="49.5" y="484.3" font-size="5.4" fill="#333" text-anchor="end" font-family="'Liberation Sans', Arial, sans-serif"  stroke="#333" stroke-width="0.28">0.4</text>
<line x1="53.2" y1="462.9" x2="55.7" y2="462.9" stroke="#222" stroke-width="0.8"/>
<text x="49.5" y="464.8" font-size="5.4" fill="#333" text-anchor="end" font-family="'Liberation Sans', Arial, sans-serif"  stroke="#333" stroke-width="0.28">0.6</text>
<line x1="53.2" y1="443.3" x2="55.7" y2="443.3" stroke="#222" stroke-width="0.8"/>
<text x="49.5" y="445.2" font-size="5.4" fill="#333" text-anchor="end" font-family="'Liberation Sans', Arial, sans-serif"  stroke="#333" stroke-width="0.28">0.8</text>
<line x1="53.2" y1="423.8" x2="55.7" y2="423.8" stroke="#222" stroke-width="0.8"/>
<text x="49.5" y="425.7" font-size="5.4" fill="#333" text-anchor="end" font-family="'Liberation Sans', Arial, sans-serif"  stroke="#333" stroke-width="0.28">1.0</text>
<line x1="53.2" y1="404.3" x2="55.7" y2="404.3" stroke="#222" stroke-width="0.8"/>
<text x="49.5" y="406.2" font-size="5.4" fill="#333" text-anchor="end" font-family="'Liberation Sans', Arial, sans-serif"  stroke="#333" stroke-width="0.28">1.2</text>
<line x1="53.2" y1="521.4" x2="53.2" y2="518.9" stroke="#222" stroke-width="0.8"/>
<text x="53.2" y="528.8" font-size="5.4" fill="#333" text-anchor="middle" font-family="'Liberation Sans', Arial, sans-serif"  stroke="#333" stroke-width="0.28">200</text>
<line x1="82.0" y1="521.4" x2="82.0" y2="518.9" stroke="#222" stroke-width="0.8"/>
<text x="82.0" y="528.8" font-size="5.4" fill="#333" text-anchor="middle" font-family="'Liberation Sans', Arial, sans-serif"  stroke="#333" stroke-width="0.28">300</text>
<line x1="110.8" y1="521.4" x2="110.8" y2="518.9" stroke="#222" stroke-width="0.8"/>
<text x="110.8" y="528.8" font-size="5.4" fill="#333" text-anchor="middle" font-family="'Liberation Sans', Arial, sans-serif"  stroke="#333" stroke-width="0.28">400</text>
<line x1="139.6" y1="521.4" x2="139.6" y2="518.9" stroke="#222" stroke-width="0.8"/>
<text x="139.6" y="528.8" font-size="5.4" fill="#333" text-anchor="middle" font-family="'Liberation Sans', Arial, sans-serif"  stroke="#333" stroke-width="0.28">500</text>
<line x1="168.4" y1="521.4" x2="168.4" y2="518.9" stroke="#222" stroke-width="0.8"/>
<text x="168.4" y="528.8" font-size="5.4" fill="#333" text-anchor="middle" font-family="'Liberation Sans', Arial, sans-serif"  stroke="#333" stroke-width="0.28">600</text>
<line x1="197.2" y1="521.4" x2="197.2" y2="518.9" stroke="#222" stroke-width="0.8"/>
<text x="197.2" y="528.8" font-size="5.4" fill="#333" text-anchor="middle" font-family="'Liberation Sans', Arial, sans-serif"  stroke="#333" stroke-width="0.28">700</text>
<line x1="226.0" y1="521.4" x2="226.0" y2="518.9" stroke="#222" stroke-width="0.8"/>
<text x="226.0" y="528.8" font-size="5.4" fill="#333" text-anchor="middle" font-family="'Liberation Sans', Arial, sans-serif"  stroke="#333" stroke-width="0.28">800</text>
<line x1="67.6" y1="521.4" x2="67.6" y2="519.9" stroke="#222" stroke-width="0.6"/>
<line x1="96.4" y1="521.4" x2="96.4" y2="519.9" stroke="#222" stroke-width="0.6"/>
<line x1="125.2" y1="521.4" x2="125.2" y2="519.9" stroke="#222" stroke-width="0.6"/>
<line x1="154.0" y1="521.4" x2="154.0" y2="519.9" stroke="#222" stroke-width="0.6"/>
<line x1="182.8" y1="521.4" x2="182.8" y2="519.9" stroke="#222" stroke-width="0.6"/>
<line x1="211.6" y1="521.4" x2="211.6" y2="519.9" stroke="#222" stroke-width="0.6"/>
<text x="139.6" y="540.2" font-size="6.5" fill="#222" text-anchor="middle" font-family="'Liberation Sans', Arial, sans-serif"  stroke="#222" stroke-width="0.28">Wavelength /nm</text>
<text transform="translate(31.8,462.6) rotate(-90)" font-size="6.6" fill="#222" text-anchor="middle" stroke="#222" stroke-width="0.28" font-family="'Liberation Sans', Arial, sans-serif">Absorbance</text>
<text transform="translate(14.5,405) scale(1.22,1)" font-size="13.4" fill="#222" font-family="'Liberation Sans', Arial, sans-serif">(a)</text>
</g>
<g id="pb">
<line x1="298" y1="395.7" x2="298" y2="520.8" stroke="#333" stroke-width="0.9" stroke-dasharray="1.2,1.8"/>
<polyline points="273.1,415.2 298.2,418.2 323.2,442.3 348.3,474.3 373.4,489.7 398.5,493.6 423.6,504.3" fill="none" stroke="#111111" stroke-width="1.25" stroke-linejoin="round"/>
<rect x="271.5" y="413.6" width="3.2" height="3.2" fill="#111111"/>
<rect x="296.6" y="416.6" width="3.2" height="3.2" fill="#111111"/>
<rect x="321.6" y="440.7" width="3.2" height="3.2" fill="#111111"/>
<rect x="346.7" y="472.7" width="3.2" height="3.2" fill="#111111"/>
<rect x="371.8" y="488.1" width="3.2" height="3.2" fill="#111111"/>
<rect x="396.9" y="492.0" width="3.2" height="3.2" fill="#111111"/>
<rect x="421.9" y="502.7" width="3.2" height="3.2" fill="#111111"/>
<polyline points="273.1,415.2 298.2,414.3 323.2,437.5 348.3,470.4 373.4,490.7 398.5,500.4 423.6,503.3" fill="none" stroke="#1e6e28" stroke-width="1.25" stroke-linejoin="round"/>
<path d="M273.1,413.1 L275.0,415.2 L273.1,417.4 L271.2,415.2 Z" fill="#1e6e28"/>
<path d="M298.2,412.1 L300.1,414.3 L298.2,416.4 L296.3,414.3 Z" fill="#1e6e28"/>
<path d="M323.2,435.3 L325.2,437.5 L323.2,439.7 L321.3,437.5 Z" fill="#1e6e28"/>
<path d="M348.3,468.2 L350.2,470.4 L348.3,472.6 L346.4,470.4 Z" fill="#1e6e28"/>
<path d="M373.4,488.6 L375.3,490.7 L373.4,492.9 L371.5,490.7 Z" fill="#1e6e28"/>
<path d="M398.5,498.2 L400.4,500.4 L398.5,502.6 L396.6,500.4 Z" fill="#1e6e28"/>
<path d="M423.6,501.1 L425.5,503.3 L423.6,505.5 L421.6,503.3 Z" fill="#1e6e28"/>
<polyline points="273.1,415.2 298.2,412.3 323.2,443.3 348.3,463.6 373.4,485.9 398.5,500.4 423.6,505.2" fill="none" stroke="#16164e" stroke-width="1.25" stroke-linejoin="round"/>
<path d="M271.0,415.2 L274.7,413.2 L274.7,417.2 Z" fill="#16164e"/>
<path d="M296.1,412.3 L299.8,410.3 L299.8,414.3 Z" fill="#16164e"/>
<path d="M321.2,443.3 L324.9,441.3 L324.9,445.3 Z" fill="#16164e"/>
<path d="M346.2,463.6 L349.9,461.6 L349.9,465.6 Z" fill="#16164e"/>
<path d="M371.3,485.9 L375.0,483.9 L375.0,487.9 Z" fill="#16164e"/>
<path d="M396.4,500.4 L400.1,498.4 L400.1,502.4 Z" fill="#16164e"/>
<path d="M421.5,505.2 L425.2,503.2 L425.2,507.2 Z" fill="#16164e"/>
<polyline points="273.1,415.2 298.2,416.2 323.2,462.7 348.3,480.1 373.4,494.6 398.5,504.3 423.6,505.2" fill="none" stroke="#b43cb4" stroke-width="1.25" stroke-linejoin="round"/>
<path d="M273.1,417.3 L275.1,413.6 L271.1,413.6 Z" fill="#b43cb4"/>
<path d="M298.2,418.3 L300.2,414.6 L296.2,414.6 Z" fill="#b43cb4"/>
<path d="M323.2,464.7 L325.2,461.1 L321.2,461.1 Z" fill="#b43cb4"/>
<path d="M348.3,482.2 L350.3,478.5 L346.3,478.5 Z" fill="#b43cb4"/>
<path d="M373.4,496.7 L375.4,493.0 L371.4,493.0 Z" fill="#b43cb4"/>
<path d="M398.5,506.3 L400.5,502.7 L396.5,502.7 Z" fill="#b43cb4"/>
<path d="M423.6,507.3 L425.6,503.6 L421.6,503.6 Z" fill="#b43cb4"/>
<polyline points="273.1,415.2 298.2,417.2 323.2,479.1 348.3,483.9 373.4,493.6 398.5,502.3 423.6,506.2" fill="none" stroke="#c83232" stroke-width="1.25" stroke-linejoin="round"/>
<circle cx="273.1" cy="415.2" r="1.8" fill="#c83232"/>
<circle cx="298.2" cy="417.2" r="1.8" fill="#c83232"/>
<circle cx="323.2" cy="479.1" r="1.8" fill="#c83232"/>
<circle cx="348.3" cy="483.9" r="1.8" fill="#c83232"/>
<circle cx="373.4" cy="493.6" r="1.8" fill="#c83232"/>
<circle cx="398.5" cy="502.3" r="1.8" fill="#c83232"/>
<circle cx="423.6" cy="506.2" r="1.8" fill="#c83232"/>
<polyline points="273.1,415.2 298.2,419.1 323.2,481.0 348.3,488.8 373.4,502.8 398.5,505.2 423.6,509.1" fill="none" stroke="#1e1e8c" stroke-width="1.25" stroke-linejoin="round"/>
<path d="M273.1,413.2 L275.1,416.9 L271.1,416.9 Z" fill="#1e1e8c"/>
<path d="M298.2,417.0 L300.2,420.7 L296.2,420.7 Z" fill="#1e1e8c"/>
<path d="M323.2,479.0 L325.2,482.6 L321.2,482.6 Z" fill="#1e1e8c"/>
<path d="M348.3,486.7 L350.3,490.4 L346.3,490.4 Z" fill="#1e1e8c"/>
<path d="M373.4,500.7 L375.4,504.4 L371.4,504.4 Z" fill="#1e1e8c"/>
<path d="M398.5,503.1 L400.5,506.8 L396.5,506.8 Z" fill="#1e1e8c"/>
<path d="M423.6,507.0 L425.6,510.7 L421.6,510.7 Z" fill="#1e1e8c"/>
<rect x="267.8" y="395.7" width="176.5" height="125.1" fill="none" stroke="#1a1a1a" stroke-width="1.4"/>
<line x1="267.8" y1="512.0" x2="270.3" y2="512.0" stroke="#222" stroke-width="0.8"/>
<text x="265.3" y="514.4" font-size="6.8" fill="#333" text-anchor="end" font-family="'Liberation Sans', Arial, sans-serif"  stroke="#333" stroke-width="0.28">0</text>
<line x1="267.8" y1="492.6" x2="270.3" y2="492.6" stroke="#222" stroke-width="0.8"/>
<text x="265.3" y="495.0" font-size="6.8" fill="#333" text-anchor="end" font-family="'Liberation Sans', Arial, sans-serif"  stroke="#333" stroke-width="0.28">20</text>
<line x1="267.8" y1="473.3" x2="270.3" y2="473.3" stroke="#222" stroke-width="0.8"/>
<text x="265.3" y="475.7" font-size="6.8" fill="#333" text-anchor="end" font-family="'Liberation Sans', Arial, sans-serif"  stroke="#333" stroke-width="0.28">40</text>
<line x1="267.8" y1="453.9" x2="270.3" y2="453.9" stroke="#222" stroke-width="0.8"/>
<text x="265.3" y="456.3" font-size="6.8" fill="#333" text-anchor="end" font-family="'Liberation Sans', Arial, sans-serif"  stroke="#333" stroke-width="0.28">60</text>
<line x1="267.8" y1="434.6" x2="270.3" y2="434.6" stroke="#222" stroke-width="0.8"/>
<text x="265.3" y="437.0" font-size="6.8" fill="#333" text-anchor="end" font-family="'Liberation Sans', Arial, sans-serif"  stroke="#333" stroke-width="0.28">80</text>
<line x1="267.8" y1="415.2" x2="270.3" y2="415.2" stroke="#222" stroke-width="0.8"/>
<text x="265.3" y="417.6" font-size="6.8" fill="#333" text-anchor="end" font-family="'Liberation Sans', Arial, sans-serif"  stroke="#333" stroke-width="0.28">100</text>
<line x1="267.8" y1="395.9" x2="270.3" y2="395.9" stroke="#222" stroke-width="0.8"/>
<text x="265.3" y="398.3" font-size="6.8" fill="#333" text-anchor="end" font-family="'Liberation Sans', Arial, sans-serif"  stroke="#333" stroke-width="0.28">120</text>
<line x1="267.8" y1="502.3" x2="269.3" y2="502.3" stroke="#222" stroke-width="0.6"/>
<line x1="267.8" y1="483.0" x2="269.3" y2="483.0" stroke="#222" stroke-width="0.6"/>
<line x1="267.8" y1="463.6" x2="269.3" y2="463.6" stroke="#222" stroke-width="0.6"/>
<line x1="267.8" y1="444.3" x2="269.3" y2="444.3" stroke="#222" stroke-width="0.6"/>
<line x1="267.8" y1="424.9" x2="269.3" y2="424.9" stroke="#222" stroke-width="0.6"/>
<line x1="267.8" y1="405.6" x2="269.3" y2="405.6" stroke="#222" stroke-width="0.6"/>
<line x1="273.1" y1="520.8" x2="273.1" y2="518.3" stroke="#222" stroke-width="0.8"/>
<text x="273.1" y="530.3" font-size="7.3" fill="#333" text-anchor="middle" font-family="'Liberation Sans', Arial, sans-serif"  stroke="#333" stroke-width="0.28">0.00</text>
<line x1="298.2" y1="520.8" x2="298.2" y2="518.3" stroke="#222" stroke-width="0.8"/>
<text x="298.2" y="530.3" font-size="7.3" fill="#333" text-anchor="middle" font-family="'Liberation Sans', Arial, sans-serif"  stroke="#333" stroke-width="0.28">0.25</text>
<line x1="323.2" y1="520.8" x2="323.2" y2="518.3" stroke="#222" stroke-width="0.8"/>
<text x="323.2" y="530.3" font-size="7.3" fill="#333" text-anchor="middle" font-family="'Liberation Sans', Arial, sans-serif"  stroke="#333" stroke-width="0.28">0.50</text>
<line x1="348.3" y1="520.8" x2="348.3" y2="518.3" stroke="#222" stroke-width="0.8"/>
<text x="348.3" y="530.3" font-size="7.3" fill="#333" text-anchor="middle" font-family="'Liberation Sans', Arial, sans-serif"  stroke="#333" stroke-width="0.28">0.75</text>
<line x1="373.4" y1="520.8" x2="373.4" y2="518.3" stroke="#222" stroke-width="0.8"/>
<text x="373.4" y="530.3" font-size="7.3" fill="#333" text-anchor="middle" font-family="'Liberation Sans', Arial, sans-serif"  stroke="#333" stroke-width="0.28">1.00</text>
<line x1="398.5" y1="520.8" x2="398.5" y2="518.3" stroke="#222" stroke-width="0.8"/>
<text x="398.5" y="530.3" font-size="7.3" fill="#333" text-anchor="middle" font-family="'Liberation Sans', Arial, sans-serif"  stroke="#333" stroke-width="0.28">1.25</text>
<line x1="423.6" y1="520.8" x2="423.6" y2="518.3" stroke="#222" stroke-width="0.8"/>
<text x="423.6" y="530.3" font-size="7.3" fill="#333" text-anchor="middle" font-family="'Liberation Sans', Arial, sans-serif"  stroke="#333" stroke-width="0.28">1.50</text>
<line x1="367" y1="402.6" x2="380" y2="402.6" stroke="#111111" stroke-width="1"/>
<rect x="371.9" y="401.0" width="3.2" height="3.2" fill="#111111"/>
<text x="382.2" y="405.2" font-size="7.3" fill="#222" text-anchor="start" font-family="'Liberation Sans', Arial, sans-serif"  stroke="#222" stroke-width="0.28">pure-NiTiO<tspan font-size="4.526" dy="1.6">3</tspan></text>
<line x1="367" y1="414.4" x2="380" y2="414.4" stroke="#c83232" stroke-width="1"/>
<circle cx="373.5" cy="414.4" r="1.8" fill="#c83232"/>
<text x="382.2" y="417.0" font-size="7.3" fill="#222" text-anchor="start" font-family="'Liberation Sans', Arial, sans-serif"  stroke="#222" stroke-width="0.28">NiO(5%)/NiTiO<tspan font-size="4.526" dy="1.6">3</tspan></text>
<line x1="367" y1="426.0" x2="380" y2="426.0" stroke="#1e1e8c" stroke-width="1"/>
<path d="M373.5,423.9 L375.5,427.6 L371.5,427.6 Z" fill="#1e1e8c"/>
<text x="382.2" y="428.6" font-size="7.3" fill="#222" text-anchor="start" font-family="'Liberation Sans', Arial, sans-serif"  stroke="#222" stroke-width="0.28">NiO(10%)/NiTiO<tspan font-size="4.526" dy="1.6">3</tspan></text>
<line x1="367" y1="437.6" x2="380" y2="437.6" stroke="#b43cb4" stroke-width="1"/>
<path d="M373.5,439.7 L375.5,436.0 L371.5,436.0 Z" fill="#b43cb4"/>
<text x="382.2" y="440.2" font-size="7.3" fill="#222" text-anchor="start" font-family="'Liberation Sans', Arial, sans-serif"  stroke="#222" stroke-width="0.28">NiO(15%)/NiTiO<tspan font-size="4.526" dy="1.6">3</tspan></text>
<line x1="367" y1="449.2" x2="380" y2="449.2" stroke="#1e6e28" stroke-width="1"/>
<path d="M373.5,447.0 L375.4,449.2 L373.5,451.4 L371.6,449.2 Z" fill="#1e6e28"/>
<text x="382.2" y="451.8" font-size="7.3" fill="#222" text-anchor="start" font-family="'Liberation Sans', Arial, sans-serif"  stroke="#222" stroke-width="0.28">NiO(20%)/NiTiO<tspan font-size="4.526" dy="1.6">3</tspan></text>
<line x1="367" y1="461.0" x2="380" y2="461.0" stroke="#16164e" stroke-width="1"/>
<path d="M371.4,461.0 L375.1,459.0 L375.1,463.0 Z" fill="#16164e"/>
<text x="382.2" y="463.6" font-size="7.3" fill="#222" text-anchor="start" font-family="'Liberation Sans', Arial, sans-serif"  stroke="#222" stroke-width="0.28">NiO(25%)/NiTiO<tspan font-size="4.526" dy="1.6">3</tspan></text>
<text x="269.6" y="443.0" font-size="6.6" fill="#333" text-anchor="start" font-family="'Liberation Sans', Arial, sans-serif"  stroke="#333" stroke-width="0.28">Dark</text>
<text x="269.6" y="451.2" font-size="6.6" fill="#333" text-anchor="start" font-family="'Liberation Sans', Arial, sans-serif"  stroke="#333" stroke-width="0.28">treatment</text>
<text x="351.5" y="542.0" font-size="8.1" fill="#222" text-anchor="middle" font-family="'Liberation Sans', Arial, sans-serif"  stroke="#222" stroke-width="0.28">illuminattion time /h</text>
<text transform="translate(252.0,455.0) rotate(-90)" font-size="7.5" fill="#222" text-anchor="middle" stroke="#222" stroke-width="0.28" font-family="'Liberation Sans', Arial, sans-serif">C/C<tspan font-size="4.65" dy="1.6">0</tspan></text>
<text transform="translate(228,405) scale(1.22,1)" font-size="13.4" fill="#222" font-family="'Liberation Sans', Arial, sans-serif">(b)</text>
</g>
<g id="pc">
<clipPath id="clipc"><rect x="49.6" y="549.2" width="175.4" height="124.2"/></clipPath>
<g clip-path="url(#clipc)">
<line x1="54.9" y1="679.3" x2="221.3" y2="591.9" stroke="#111111" stroke-width="1.25"/>
<line x1="54.9" y1="678.3" x2="221.3" y2="593.8" stroke="#1e6e28" stroke-width="1.25"/>
<line x1="54.9" y1="678.9" x2="221.3" y2="590.1" stroke="#16164e" stroke-width="1.25"/>
<line x1="54.9" y1="668.0" x2="221.3" y2="585.0" stroke="#c83232" stroke-width="1.25"/>
<line x1="54.9" y1="675.2" x2="221.3" y2="581.0" stroke="#b43cb4" stroke-width="1.25"/>
<line x1="54.9" y1="676.8" x2="221.3" y2="562.5" stroke="#1e1e8c" stroke-width="1.25"/>
</g>
<rect x="53.5" y="664.4" width="2.8" height="2.8" fill="#111111"/>
<rect x="81.2" y="665.3" width="2.8" height="2.8" fill="#111111"/>
<rect x="108.9" y="654.1" width="2.8" height="2.8" fill="#111111"/>
<rect x="136.7" y="634.7" width="2.8" height="2.8" fill="#111111"/>
<rect x="164.4" y="617.4" width="2.8" height="2.8" fill="#111111"/>
<rect x="192.1" y="611.8" width="2.8" height="2.8" fill="#111111"/>
<rect x="219.9" y="586.1" width="2.8" height="2.8" fill="#111111"/>
<path d="M54.9,663.9 L56.6,665.8 L54.9,667.7 L53.2,665.8 Z" fill="#1e6e28"/>
<path d="M82.6,663.0 L84.3,664.9 L82.6,666.8 L80.9,664.9 Z" fill="#1e6e28"/>
<path d="M110.3,655.1 L112.0,657.0 L110.3,658.9 L108.7,657.0 Z" fill="#1e6e28"/>
<path d="M138.1,637.3 L139.8,639.2 L138.1,641.1 L136.4,639.2 Z" fill="#1e6e28"/>
<path d="M165.8,615.4 L167.5,617.3 L165.8,619.2 L164.1,617.3 Z" fill="#1e6e28"/>
<path d="M193.5,598.2 L195.2,600.1 L193.5,602.0 L191.8,600.1 Z" fill="#1e6e28"/>
<path d="M221.3,588.8 L222.9,590.7 L221.3,592.6 L219.6,590.7 Z" fill="#1e6e28"/>
<path d="M53.1,665.8 L56.3,664.0 L56.3,667.5 Z" fill="#16164e"/>
<path d="M80.8,664.2 L84.0,662.5 L84.0,666.0 Z" fill="#16164e"/>
<path d="M108.5,656.4 L111.8,654.7 L111.8,658.2 Z" fill="#16164e"/>
<path d="M136.3,643.9 L139.5,642.1 L139.5,645.6 Z" fill="#16164e"/>
<path d="M164.0,625.1 L167.2,623.4 L167.2,626.9 Z" fill="#16164e"/>
<path d="M191.7,600.1 L194.9,598.3 L194.9,601.8 Z" fill="#16164e"/>
<path d="M219.4,582.9 L222.7,581.1 L222.7,584.6 Z" fill="#16164e"/>
<path d="M54.9,673.9 L56.6,670.7 L53.1,670.7 Z" fill="#b43cb4"/>
<path d="M82.6,667.0 L84.4,663.8 L80.9,663.8 Z" fill="#b43cb4"/>
<path d="M110.3,647.3 L112.1,644.1 L108.6,644.1 Z" fill="#b43cb4"/>
<path d="M138.1,633.2 L139.8,630.0 L136.3,630.0 Z" fill="#b43cb4"/>
<path d="M165.8,614.4 L167.6,611.2 L164.1,611.2 Z" fill="#b43cb4"/>
<path d="M193.5,590.9 L195.3,587.7 L191.8,587.7 Z" fill="#b43cb4"/>
<path d="M221.3,581.5 L223.0,578.3 L219.5,578.3 Z" fill="#b43cb4"/>
<circle cx="54.9" cy="665.8" r="1.5" fill="#c83232"/>
<circle cx="82.6" cy="665.2" r="1.5" fill="#c83232"/>
<circle cx="110.3" cy="632.0" r="1.5" fill="#c83232"/>
<circle cx="138.1" cy="621.0" r="1.5" fill="#c83232"/>
<circle cx="165.8" cy="612.6" r="1.5" fill="#c83232"/>
<circle cx="193.5" cy="595.4" r="1.5" fill="#c83232"/>
<circle cx="221.3" cy="587.5" r="1.5" fill="#c83232"/>
<path d="M54.9,670.2 L56.6,673.5 L53.1,673.5 Z" fill="#1e1e8c"/>
<path d="M82.6,664.0 L84.4,667.2 L80.9,667.2 Z" fill="#1e1e8c"/>
<path d="M110.3,628.6 L112.1,631.8 L108.6,631.8 Z" fill="#1e1e8c"/>
<path d="M138.1,623.3 L139.8,626.5 L136.3,626.5 Z" fill="#1e1e8c"/>
<path d="M165.8,590.4 L167.6,593.6 L164.1,593.6 Z" fill="#1e1e8c"/>
<path d="M193.5,581.0 L195.3,584.3 L191.8,584.3 Z" fill="#1e1e8c"/>
<path d="M221.3,557.6 L223.0,560.8 L219.5,560.8 Z" fill="#1e1e8c"/>
<rect x="49.6" y="549.2" width="175.4" height="124.2" fill="none" stroke="#1a1a1a" stroke-width="1.4"/>
<line x1="49.6" y1="665.8" x2="52.1" y2="665.8" stroke="#222" stroke-width="0.8"/>
<text x="46.8" y="668.2" font-size="6.8" fill="#333" text-anchor="end" font-family="'Liberation Sans', Arial, sans-serif"  stroke="#333" stroke-width="0.28">0.0</text>
<line x1="49.6" y1="650.1" x2="52.1" y2="650.1" stroke="#222" stroke-width="0.8"/>
<text x="46.8" y="652.5" font-size="6.8" fill="#333" text-anchor="end" font-family="'Liberation Sans', Arial, sans-serif"  stroke="#333" stroke-width="0.28">0.5</text>
<line x1="49.6" y1="634.5" x2="52.1" y2="634.5" stroke="#222" stroke-width="0.8"/>
<text x="46.8" y="636.9" font-size="6.8" fill="#333" text-anchor="end" font-family="'Liberation Sans', Arial, sans-serif"  stroke="#333" stroke-width="0.28">1.0</text>
<line x1="49.6" y1="618.8" x2="52.1" y2="618.8" stroke="#222" stroke-width="0.8"/>
<text x="46.8" y="621.2" font-size="6.8" fill="#333" text-anchor="end" font-family="'Liberation Sans', Arial, sans-serif"  stroke="#333" stroke-width="0.28">1.5</text>
<line x1="49.6" y1="603.2" x2="52.1" y2="603.2" stroke="#222" stroke-width="0.8"/>
<text x="46.8" y="605.6" font-size="6.8" fill="#333" text-anchor="end" font-family="'Liberation Sans', Arial, sans-serif"  stroke="#333" stroke-width="0.28">2.0</text>
<line x1="49.6" y1="587.5" x2="52.1" y2="587.5" stroke="#222" stroke-width="0.8"/>
<text x="46.8" y="589.9" font-size="6.8" fill="#333" text-anchor="end" font-family="'Liberation Sans', Arial, sans-serif"  stroke="#333" stroke-width="0.28">2.5</text>
<line x1="49.6" y1="571.9" x2="52.1" y2="571.9" stroke="#222" stroke-width="0.8"/>
<text x="46.8" y="574.3" font-size="6.8" fill="#333" text-anchor="end" font-family="'Liberation Sans', Arial, sans-serif"  stroke="#333" stroke-width="0.28">3.0</text>
<line x1="49.6" y1="556.2" x2="52.1" y2="556.2" stroke="#222" stroke-width="0.8"/>
<text x="46.8" y="558.6" font-size="6.8" fill="#333" text-anchor="end" font-family="'Liberation Sans', Arial, sans-serif"  stroke="#333" stroke-width="0.28">3.5</text>
<line x1="54.9" y1="673.4" x2="54.9" y2="670.9" stroke="#222" stroke-width="0.8"/>
<text x="54.9" y="682.2" font-size="7.0" fill="#333" text-anchor="middle" font-family="'Liberation Sans', Arial, sans-serif"  stroke="#333" stroke-width="0.28">0.00</text>
<line x1="82.6" y1="673.4" x2="82.6" y2="670.9" stroke="#222" stroke-width="0.8"/>
<text x="82.6" y="682.2" font-size="7.0" fill="#333" text-anchor="middle" font-family="'Liberation Sans', Arial, sans-serif"  stroke="#333" stroke-width="0.28">0.25</text>
<line x1="110.3" y1="673.4" x2="110.3" y2="670.9" stroke="#222" stroke-width="0.8"/>
<text x="110.3" y="682.2" font-size="7.0" fill="#333" text-anchor="middle" font-family="'Liberation Sans', Arial, sans-serif"  stroke="#333" stroke-width="0.28">0.50</text>
<line x1="138.1" y1="673.4" x2="138.1" y2="670.9" stroke="#222" stroke-width="0.8"/>
<text x="138.1" y="682.2" font-size="7.0" fill="#333" text-anchor="middle" font-family="'Liberation Sans', Arial, sans-serif"  stroke="#333" stroke-width="0.28">0.75</text>
<line x1="165.8" y1="673.4" x2="165.8" y2="670.9" stroke="#222" stroke-width="0.8"/>
<text x="165.8" y="682.2" font-size="7.0" fill="#333" text-anchor="middle" font-family="'Liberation Sans', Arial, sans-serif"  stroke="#333" stroke-width="0.28">1.00</text>
<line x1="193.5" y1="673.4" x2="193.5" y2="670.9" stroke="#222" stroke-width="0.8"/>
<text x="193.5" y="682.2" font-size="7.0" fill="#333" text-anchor="middle" font-family="'Liberation Sans', Arial, sans-serif"  stroke="#333" stroke-width="0.28">1.25</text>
<line x1="221.3" y1="673.4" x2="221.3" y2="670.9" stroke="#222" stroke-width="0.8"/>
<text x="221.3" y="682.2" font-size="7.0" fill="#333" text-anchor="middle" font-family="'Liberation Sans', Arial, sans-serif"  stroke="#333" stroke-width="0.28">1.50</text>
<rect x="59.1" y="553.6" width="2.8" height="2.8" fill="#111111"/>
<text x="67.0" y="557.4" font-size="6.8" fill="#222" text-anchor="start" font-family="'Liberation Sans', Arial, sans-serif"  stroke="#222" stroke-width="0.28">pure-NiTiO<tspan font-size="4.216" dy="1.5">3</tspan></text>
<circle cx="60.5" cy="564.9" r="1.5" fill="#c83232"/>
<text x="67.0" y="567.3" font-size="6.8" fill="#222" text-anchor="start" font-family="'Liberation Sans', Arial, sans-serif"  stroke="#222" stroke-width="0.28">NiO(5%)/NiTiO<tspan font-size="4.216" dy="1.5">3</tspan></text>
<path d="M60.5,572.9 L62.2,576.1 L58.8,576.1 Z" fill="#1e1e8c"/>
<text x="67.0" y="577.1" font-size="6.8" fill="#222" text-anchor="start" font-family="'Liberation Sans', Arial, sans-serif"  stroke="#222" stroke-width="0.28">NiO(10%)/NiTiO<tspan font-size="4.216" dy="1.5">3</tspan></text>
<path d="M60.5,586.8 L62.2,583.6 L58.8,583.6 Z" fill="#b43cb4"/>
<text x="67.0" y="587.4" font-size="6.8" fill="#222" text-anchor="start" font-family="'Liberation Sans', Arial, sans-serif"  stroke="#222" stroke-width="0.28">NiO(15%)/NiTiO<tspan font-size="4.216" dy="1.5">3</tspan></text>
<path d="M60.5,593.4 L62.2,595.3 L60.5,597.2 L58.8,595.3 Z" fill="#1e6e28"/>
<text x="67.0" y="597.7" font-size="6.8" fill="#222" text-anchor="start" font-family="'Liberation Sans', Arial, sans-serif"  stroke="#222" stroke-width="0.28">NiO(20%)/NiTiO<tspan font-size="4.216" dy="1.5">3</tspan></text>
<path d="M58.7,605.3 L61.9,603.5 L61.9,607.0 Z" fill="#16164e"/>
<text x="67.0" y="607.7" font-size="6.8" fill="#222" text-anchor="start" font-family="'Liberation Sans', Arial, sans-serif"  stroke="#222" stroke-width="0.28">NiO(25%)/NiTiO<tspan font-size="4.216" dy="1.5">3</tspan></text>
<text x="133.4" y="692.8" font-size="7.8" fill="#222" text-anchor="middle" font-family="'Liberation Sans', Arial, sans-serif"  stroke="#222" stroke-width="0.28">illuminattion time /h</text>
<text transform="translate(32.5,617.3) rotate(-90)" font-size="7.2" fill="#222" text-anchor="middle" stroke="#222" stroke-width="0.28" font-family="'Liberation Sans', Arial, sans-serif">-ln(C/C<tspan font-size="4.464" dy="1.6">0</tspan><tspan dy="-1.6">)</tspan></text>
<text transform="translate(14.3,570) scale(1.22,1)" font-size="13.4" fill="#222" font-family="'Liberation Sans', Arial, sans-serif">(c)</text>
</g>
<g id="pd">
<rect x="271.1" y="613.5" width="14.6" height="64.5" fill="#3c3c3c"/>
<text x="278.4" y="610.9" font-size="7.6" fill="#222" text-anchor="middle" font-family="'Liberation Sans', Arial, sans-serif"  stroke="#222" stroke-width="0.28">1.73</text>
<text x="278.4" y="688.0" font-size="8.6" fill="#222" text-anchor="middle" font-family="'Liberation Sans', Arial, sans-serif"  stroke="#222" stroke-width="0.28">B</text>
<rect x="301.1" y="611.2" width="14.6" height="66.8" fill="#f03c3c"/>
<text x="308.4" y="608.6" font-size="7.6" fill="#222" text-anchor="middle" font-family="'Liberation Sans', Arial, sans-serif"  stroke="#222" stroke-width="0.28">1.79</text>
<text x="308.4" y="688.0" font-size="8.6" fill="#222" text-anchor="middle" font-family="'Liberation Sans', Arial, sans-serif"  stroke="#222" stroke-width="0.28">C</text>
<rect x="331.6" y="588.5" width="14.6" height="89.5" fill="#3cf03c"/>
<text x="338.9" y="585.9" font-size="7.6" fill="#222" text-anchor="middle" font-family="'Liberation Sans', Arial, sans-serif"  stroke="#222" stroke-width="0.28">2.40</text>
<text x="338.9" y="688.0" font-size="8.6" fill="#222" text-anchor="middle" font-family="'Liberation Sans', Arial, sans-serif"  stroke="#222" stroke-width="0.28">D</text>
<rect x="362.0" y="602.7" width="14.6" height="75.3" fill="#3c3ce6"/>
<text x="369.3" y="600.1" font-size="7.6" fill="#222" text-anchor="middle" font-family="'Liberation Sans', Arial, sans-serif"  stroke="#222" stroke-width="0.28">2.02</text>
<text x="369.3" y="688.0" font-size="8.6" fill="#222" text-anchor="middle" font-family="'Liberation Sans', Arial, sans-serif"  stroke="#222" stroke-width="0.28">E</text>
<rect x="392.3" y="609.7" width="14.6" height="68.3" fill="#3cf0f0"/>
<text x="399.6" y="607.1" font-size="7.6" fill="#222" text-anchor="middle" font-family="'Liberation Sans', Arial, sans-serif"  stroke="#222" stroke-width="0.28">1.83</text>
<text x="399.6" y="688.0" font-size="8.6" fill="#222" text-anchor="middle" font-family="'Liberation Sans', Arial, sans-serif"  stroke="#222" stroke-width="0.28">F</text>
<rect x="422.7" y="607.9" width="14.6" height="70.1" fill="#f03cf0"/>
<text x="430.0" y="605.3" font-size="7.6" fill="#222" text-anchor="middle" font-family="'Liberation Sans', Arial, sans-serif"  stroke="#222" stroke-width="0.28">1.88</text>
<text x="430.0" y="688.0" font-size="8.6" fill="#222" text-anchor="middle" font-family="'Liberation Sans', Arial, sans-serif"  stroke="#222" stroke-width="0.28">G</text>
<rect x="263.4" y="548.8" width="181.6" height="129.2" fill="none" stroke="#1a1a1a" stroke-width="1.4"/>
<text x="259.8" y="681.1" font-size="8.8" fill="#222" text-anchor="end" font-family="'Liberation Sans', Arial, sans-serif"  stroke="#222" stroke-width="0.28">0</text>
<line x1="263.4" y1="640.7" x2="265.9" y2="640.7" stroke="#222" stroke-width="0.8"/>
<text x="259.8" y="643.8" font-size="8.8" fill="#222" text-anchor="end" font-family="'Liberation Sans', Arial, sans-serif"  stroke="#222" stroke-width="0.28">1</text>
<line x1="263.4" y1="603.4" x2="265.9" y2="603.4" stroke="#222" stroke-width="0.8"/>
<text x="259.8" y="606.5" font-size="8.8" fill="#222" text-anchor="end" font-family="'Liberation Sans', Arial, sans-serif"  stroke="#222" stroke-width="0.28">2</text>
<line x1="263.4" y1="566.1" x2="265.9" y2="566.1" stroke="#222" stroke-width="0.8"/>
<text x="259.8" y="569.2" font-size="8.8" fill="#222" text-anchor="end" font-family="'Liberation Sans', Arial, sans-serif"  stroke="#222" stroke-width="0.28">3</text>
<text x="266.2" y="560.0" font-size="6.0" fill="#222" text-anchor="start" font-weight="bold" font-family="'Liberation Sans', Arial, sans-serif"  stroke="#222" stroke-width="0.28">B: NiTiO<tspan font-size="3.7199999999999998" dy="1.3">3</tspan></text>
<text x="325.0" y="560.0" font-size="6.0" fill="#222" text-anchor="start" font-weight="bold" font-family="'Liberation Sans', Arial, sans-serif"  stroke="#222" stroke-width="0.28">C: NiO(5%)/NiTiO<tspan font-size="3.7199999999999998" dy="1.3">3</tspan></text>
<text x="385.0" y="560.0" font-size="6.0" fill="#222" text-anchor="start" font-weight="bold" font-family="'Liberation Sans', Arial, sans-serif"  stroke="#222" stroke-width="0.28">D: NiO(10%)/NiTiO<tspan font-size="3.7199999999999998" dy="1.3">3</tspan></text>
<text x="266.2" y="572.4" font-size="6.0" fill="#222" text-anchor="start" font-weight="bold" font-family="'Liberation Sans', Arial, sans-serif"  stroke="#222" stroke-width="0.28">E: NiO(15%)/NiTiO<tspan font-size="3.7199999999999998" dy="1.3">3</tspan></text>
<text x="325.0" y="572.4" font-size="6.0" fill="#222" text-anchor="start" font-weight="bold" font-family="'Liberation Sans', Arial, sans-serif"  stroke="#222" stroke-width="0.28">F: NiO(20%)/NiTiO<tspan font-size="3.7199999999999998" dy="1.3">3</tspan></text>
<text x="385.0" y="572.4" font-size="6.0" fill="#222" text-anchor="start" font-weight="bold" font-family="'Liberation Sans', Arial, sans-serif"  stroke="#222" stroke-width="0.28">G: NiO(25%)/NiTiO<tspan font-size="3.7199999999999998" dy="1.3">3</tspan></text>
<text transform="translate(248.5,610.4) rotate(-90)" font-size="8.6" fill="#222" text-anchor="middle" stroke="#222" stroke-width="0.28" font-family="'Liberation Sans', Arial, sans-serif">K/h<tspan font-size="5.5" dy="-3.5">-1</tspan></text>
<text transform="translate(228,570) scale(1.22,1)" font-size="13.4" fill="#222" font-family="'Liberation Sans', Arial, sans-serif">(d)</text>
</g>
<defs>
<linearGradient id="bolt1" gradientUnits="userSpaceOnUse" x1="690" y1="432" x2="750" y2="350"><stop offset="0" stop-color="#3c9cf0"/><stop offset="0.1" stop-color="#a8d0f8"/><stop offset="0.2" stop-color="#ecc4a8"/><stop offset="0.3" stop-color="#f4b183"/><stop offset="0.6" stop-color="#ff9c2a"/><stop offset="0.8" stop-color="#ff5a1e"/><stop offset="1" stop-color="#e8201a"/></linearGradient>
<linearGradient id="bolt2" gradientUnits="userSpaceOnUse" x1="912" y1="247" x2="945" y2="380"><stop offset="0" stop-color="#ff1e00"/><stop offset="0.22" stop-color="#ff6a00"/><stop offset="0.45" stop-color="#ffb400"/><stop offset="0.62" stop-color="#ffc040"/><stop offset="0.8" stop-color="#f6b48c"/><stop offset="0.93" stop-color="#9cc0e8"/><stop offset="1" stop-color="#1e78c8"/></linearGradient>
</defs>
<g id="dia">
<ellipse cx="707" cy="392" rx="123.5" ry="211" fill="#ffc000" stroke="#a88a28" stroke-width="0.8"/>
<line x1="560" y1="237" x2="812" y2="237" stroke="#111" stroke-width="3.2" stroke-dasharray="2.9,3.0"/>
<line x1="560" y1="416" x2="826" y2="416" stroke="#111" stroke-width="3.2" stroke-dasharray="2.9,3.0"/>
<line x1="561" y1="337.8" x2="801" y2="337.8" stroke="#000" stroke-width="3.8"/>
<line x1="562" y1="480.3" x2="794" y2="480.3" stroke="#000" stroke-width="3.8"/>
<ellipse cx="932.3" cy="314.25" rx="131.3" ry="215" transform="rotate(-0.8 932.3 314.25)" fill="#b4c7e7" stroke="#8a9cc0" stroke-width="1"/>
<line x1="808" y1="236.3" x2="1052" y2="236.3" stroke="#000" stroke-width="3.8"/>
<line x1="821" y1="415.2" x2="1052" y2="415.2" stroke="#000" stroke-width="3.8"/>
<rect x="557" y="142" width="4.4" height="422.5" fill="#4472c4"/>
<path d="M559.2,127 L566,143.5 L552.4,143.5 Z" fill="#4472c4"/>
<rect x="534.4" y="196.2" width="24" height="5.6" fill="#4472c4"/>
<text transform="translate(531.0,210.2) scale(0.820,1)" font-size="31.5" fill="#111" text-anchor="end" font-weight="normal" font-family="'Liberation Sans', Arial, sans-serif">-2</text>
<rect x="534.4" y="256.5" width="24" height="5.6" fill="#4472c4"/>
<text transform="translate(531.0,270.5) scale(0.820,1)" font-size="31.5" fill="#111" text-anchor="end" font-weight="normal" font-family="'Liberation Sans', Arial, sans-serif">-1</text>
<rect x="534.4" y="317.2" width="24" height="5.6" fill="#4472c4"/>
<text transform="translate(531.0,331.2) scale(0.820,1)" font-size="31.5" fill="#111" text-anchor="end" font-weight="normal" font-family="'Liberation Sans', Arial, sans-serif">0</text>
<rect x="534.4" y="378.2" width="24" height="5.6" fill="#4472c4"/>
<text transform="translate(531.0,392.2) scale(0.820,1)" font-size="31.5" fill="#111" text-anchor="end" font-weight="normal" font-family="'Liberation Sans', Arial, sans-serif">1</text>
<rect x="534.4" y="439.2" width="24" height="5.6" fill="#4472c4"/>
<text transform="translate(531.0,453.2) scale(0.820,1)" font-size="31.5" fill="#111" text-anchor="end" font-weight="normal" font-family="'Liberation Sans', Arial, sans-serif">2</text>
<rect x="534.4" y="500.2" width="24" height="5.6" fill="#4472c4"/>
<text transform="translate(531.0,514.2) scale(0.820,1)" font-size="31.5" fill="#111" text-anchor="end" font-weight="normal" font-family="'Liberation Sans', Arial, sans-serif">3</text>
<ellipse cx="609.6" cy="306.0" rx="28" ry="29.4" fill="#ffe699" stroke="#b9a36a" stroke-width="1"/>
<text transform="translate(599.20,319.8) scale(0.6835,1)" font-size="40" fill="#fffdf0" font-weight="bold" font-family="'Liberation Sans', Arial, sans-serif">e<tspan font-size="22" dy="-11.8" dx="1.5">-</tspan></text>
<ellipse cx="671.4" cy="306.6" rx="28" ry="29.4" fill="#ffe699" stroke="#b9a36a" stroke-width="1"/>
<text transform="translate(661.00,320.4) scale(0.6835,1)" font-size="40" fill="#fffdf0" font-weight="bold" font-family="'Liberation Sans', Arial, sans-serif">e<tspan font-size="22" dy="-11.8" dx="1.5">-</tspan></text>
<ellipse cx="891.1" cy="204.4" rx="28" ry="29.4" fill="#ffe699" stroke="#b9a36a" stroke-width="1"/>
<text transform="translate(880.70,218.2) scale(0.6835,1)" font-size="40" fill="#fffdf0" font-weight="bold" font-family="'Liberation Sans', Arial, sans-serif">e<tspan font-size="22" dy="-11.8" dx="1.5">-</tspan></text>
<ellipse cx="949.2" cy="203.9" rx="28" ry="29.4" fill="#ffe699" stroke="#b9a36a" stroke-width="1"/>
<text transform="translate(938.80,217.7) scale(0.6835,1)" font-size="40" fill="#fffdf0" font-weight="bold" font-family="'Liberation Sans', Arial, sans-serif">e<tspan font-size="22" dy="-11.8" dx="1.5">-</tspan></text>
<ellipse cx="655.5" cy="515.5" rx="28.1" ry="29.5" fill="#a6a6a6" stroke="#948a6e" stroke-width="1"/>
<text transform="translate(645.10,525.7) scale(0.6614,1)" font-size="29.2" fill="#ffffff" font-weight="bold" font-family="'Liberation Sans', Arial, sans-serif">h<tspan font-size="20" dy="-8.6" dx="1.2">+</tspan></text>
<ellipse cx="720.0" cy="517.5" rx="28.1" ry="29.5" fill="#a6a6a6" stroke="#948a6e" stroke-width="1"/>
<text transform="translate(709.60,527.7) scale(0.6614,1)" font-size="29.2" fill="#ffffff" font-weight="bold" font-family="'Liberation Sans', Arial, sans-serif">h<tspan font-size="20" dy="-8.6" dx="1.2">+</tspan></text>
<ellipse cx="858.2" cy="448.2" rx="28.1" ry="29.5" fill="#a6a6a6" stroke="#948a6e" stroke-width="1"/>
<text transform="translate(847.80,458.4) scale(0.6614,1)" font-size="29.2" fill="#ffffff" font-weight="bold" font-family="'Liberation Sans', Arial, sans-serif">h<tspan font-size="20" dy="-8.6" dx="1.2">+</tspan></text>
<ellipse cx="938.2" cy="446.5" rx="28.1" ry="29.5" fill="#a6a6a6" stroke="#948a6e" stroke-width="1"/>
<text transform="translate(927.80,456.7) scale(0.6614,1)" font-size="29.2" fill="#ffffff" font-weight="bold" font-family="'Liberation Sans', Arial, sans-serif">h<tspan font-size="20" dy="-8.6" dx="1.2">+</tspan></text>
<path d="M679.6,337.3 L697.4,357.8 L688.6,357.8 L688.6,460 L697.4,460 L679.6,480.6 L661.6,460 L670.6,460 L670.6,357.8 L661.6,357.8 Z" fill="#ff0a0a" stroke="#d00000" stroke-width="0.8"/>
<path d="M971.4,239 L992.4,263.2 L982,263.2 L982,386.4 L992.4,386.4 L971.4,411 L950.6,386.4 L960.8,386.4 L960.8,263.2 L950.6,263.2 Z" fill="#4472c4"/>
<path d="M732.5,338.1 L753.2,354.9 L736.9,379.0 L732.5,375.9 L719.1,401.4 L714.0,397.5 L690.2,432.4 L702.0,388.4 L707.0,391.8 L716.7,363.9 L722.4,367.0 Z" fill="url(#bolt1)" stroke="#5a3e10" stroke-width="0.9" stroke-linejoin="miter"/>
<path d="M912.4,246.6 L925.8,283.1 L923.1,286.9 L938.1,318.3 L935.4,322.8 L956.7,380.1 L930.7,340.2 L932.5,334.6 L915.7,310.0 L918.7,302.2 L901.6,274.8 Z" fill="url(#bolt2)" stroke="#4a3a2a" stroke-width="0.9" stroke-linejoin="miter"/>
<path d="M871.1,49.7 C873.2,52.7 880.4,61.2 883.7,67.9 C887.0,74.6 889.5,83.0 891.0,90.0 C892.5,97.0 893.3,104.4 893.0,110.0 C892.7,115.6 891.1,118.7 889.2,123.6 C887.3,128.5 884.4,134.7 881.8,139.4 C879.2,144.1 876.6,148.5 873.5,152.0 C870.4,155.5 866.9,158.6 863.0,160.4 C859.1,162.2 854.2,162.8 850.4,163.0 C846.5,163.2 844.5,162.9 839.9,161.4 C835.3,159.9 825.5,155.2 822.6,154.0 L818.4,159.8 L815.2,136.2 L834.6,132.6 L831.5,140.4 C833.2,141.4 838.1,145.2 842.0,146.7 C845.9,148.2 850.4,149.1 854.6,149.3 C858.8,149.5 863.7,148.9 867.2,147.8 C870.7,146.7 873.3,144.9 875.6,142.5 C877.9,140.1 879.5,136.8 880.8,133.1 C882.1,129.4 882.9,124.3 883.4,120.5 C883.9,116.7 884.2,113.4 884.0,110.0 C883.8,106.6 883.3,104.5 882.0,100.0 C880.7,95.5 879.5,89.4 876.2,83.0 C872.9,76.6 864.6,65.2 862.3,61.6 Z" fill="#4472c4" stroke="#2f528f" stroke-width="0.8" stroke-linejoin="round"/>
<path d="M871.1,49.7 C873.2,52.7 880.4,61.2 883.7,67.9 C887.0,74.6 889.5,83.0 891.0,90.0 C892.5,97.0 893.3,104.4 893.0,110.0 C892.7,115.6 891.1,118.7 889.2,123.6 C887.3,128.5 884.4,134.7 881.8,139.4 C879.2,144.1 874.9,149.9 873.5,152.0 L875.6,142.5 C876.5,140.9 879.5,136.8 880.8,133.1 C882.1,129.4 882.9,124.3 883.4,120.5 C883.9,116.7 884.2,113.4 884.0,110.0 C883.8,106.6 883.3,104.5 882.0,100.0 C880.7,95.5 879.5,89.4 876.2,83.0 C872.9,76.6 864.6,65.2 862.3,61.6 Z" fill="#335a9f"/>
<path d="M862.3,212.0 C860.8,208.6 857.8,198.3 853.3,191.5 C848.8,184.7 842.5,176.3 835.4,171.3 C828.3,166.3 819.0,163.2 810.8,161.3 C802.6,159.4 794.4,159.0 786.2,160.1 C778.0,161.2 769.4,163.9 761.6,168.0 C753.8,172.1 746.0,179.4 739.2,184.7 C732.4,190.0 724.9,195.1 720.6,200.0 C716.3,204.9 715.9,208.9 713.6,214.0 C711.3,219.1 708.5,225.0 706.6,230.8 C704.7,236.6 703.3,242.7 702.4,249.0 C701.5,255.3 701.2,265.2 701.0,268.5 L691.9,272.7 L709.4,286.4 L721.7,257.3 L715.0,260.8 C715.1,258.4 715.1,251.2 715.7,246.2 C716.3,241.2 717.0,236.2 718.5,230.8 C720.0,225.4 722.5,219.1 724.8,214.0 C727.1,208.9 728.9,203.9 732.4,200.0 C735.9,196.1 740.3,194.5 745.9,190.3 C751.5,186.1 759.4,178.4 766.1,174.7 C772.8,171.0 779.5,168.6 786.2,168.0 C792.9,167.4 800.0,168.9 806.3,171.3 C812.6,173.7 818.6,177.7 824.2,182.5 C829.8,187.3 836.0,194.4 839.9,200.4 C843.8,206.4 846.4,215.3 847.7,218.3 Z" fill="#4472c4" stroke="#2f528f" stroke-width="0.8" stroke-linejoin="round"/>
<path d="M862.3,212.0 C860.8,208.6 857.8,198.3 853.3,191.5 C848.8,184.7 842.5,176.3 835.4,171.3 C828.3,166.3 819.0,163.2 810.8,161.3 C802.6,159.4 790.3,160.3 786.2,160.1 L786.2,168.0 C789.6,168.6 800.0,168.9 806.3,171.3 C812.6,173.7 818.6,177.7 824.2,182.5 C829.8,187.3 836.0,194.4 839.9,200.4 C843.8,206.4 846.4,215.3 847.7,218.3 Z" fill="#335a9f"/>
<path d="M1050.0,185.5 C1047.1,186.8 1038.6,191.9 1032.7,193.6 C1026.8,195.3 1020.5,196.4 1014.5,195.5 C1008.5,194.6 1001.9,192.1 996.4,188.2 C990.9,184.2 985.6,178.2 981.8,171.8 C978.0,165.4 975.1,157.0 973.6,150.0 C972.1,143.0 971.9,136.7 972.7,130.0 C973.5,123.3 974.9,116.4 978.2,110.0 C981.5,103.6 990.3,94.8 992.7,91.8 L988.2,84.5 L1005.5,88.2 L1001.8,114.5 L997.3,107.3 C995.8,109.0 990.6,113.5 988.2,117.3 C985.8,121.1 983.8,125.2 982.7,130.0 C981.6,134.8 980.9,141.0 981.8,146.4 C982.7,151.8 985.2,157.5 988.2,162.7 C991.2,167.8 995.6,174.0 1000.0,177.3 C1004.4,180.6 1009.6,182.1 1014.5,182.7 C1019.4,183.3 1024.4,182.7 1029.1,180.9 C1033.8,179.1 1040.4,173.3 1042.7,171.8 Z" fill="#4472c4" stroke="#2f528f" stroke-width="0.8" stroke-linejoin="round"/>
<path d="M1050.0,185.5 C1047.1,186.8 1038.6,191.9 1032.7,193.6 C1026.8,195.3 1020.5,196.4 1014.5,195.5 C1008.5,194.6 1001.9,192.1 996.4,188.2 C990.9,184.2 984.2,174.5 981.8,171.8 L988.2,162.7 C990.2,165.1 995.6,174.0 1000.0,177.3 C1004.4,180.6 1009.6,182.1 1014.5,182.7 C1019.4,183.3 1024.4,182.7 1029.1,180.9 C1033.8,179.1 1040.4,173.3 1042.7,171.8 Z" fill="#335a9f"/>
<path d="M753.7,502.3 C755.0,505.6 757.2,515.7 761.5,521.9 C765.8,528.1 772.0,535.1 779.2,539.5 C786.4,543.9 796.5,547.0 804.6,548.3 C812.8,549.6 820.6,548.8 828.1,547.3 C835.6,545.8 842.5,543.4 849.7,539.5 C856.9,535.6 865.0,530.0 871.2,523.8 C877.4,517.6 882.3,509.8 886.9,502.3 C891.5,494.8 895.9,486.3 898.7,478.8 C901.5,471.3 902.8,460.8 903.6,457.2 L909.4,452.3 L894.7,440.6 L882.0,464.1 L890.8,462.1 C890.5,464.9 890.5,472.8 888.9,478.8 C887.3,484.9 884.6,491.9 881.0,498.4 C877.4,504.9 872.5,512.0 867.3,517.9 C862.1,523.8 855.9,529.7 849.7,533.6 C843.5,537.5 836.6,540.2 830.1,541.4 C823.6,542.5 817.0,542.5 810.5,540.5 C804.0,538.5 796.8,534.4 790.9,529.7 C785.0,525.0 779.2,517.5 775.3,512.1 C771.4,506.7 768.7,499.8 767.4,497.4 Z" fill="#4472c4" stroke="#2f528f" stroke-width="0.8" stroke-linejoin="round"/>
<path d="M753.7,502.3 C755.0,505.6 757.2,515.7 761.5,521.9 C765.8,528.1 772.0,535.1 779.2,539.5 C786.4,543.9 796.5,547.0 804.6,548.3 C812.8,549.6 824.2,547.5 828.1,547.3 L830.1,541.4 C826.8,541.2 817.0,542.5 810.5,540.5 C804.0,538.5 796.8,534.4 790.9,529.7 C785.0,525.0 779.2,517.5 775.3,512.1 C771.4,506.7 768.7,499.8 767.4,497.4 Z" fill="#335a9f"/>
<path d="M903.5,560.5 C903.8,557.7 903.8,549.9 905.4,543.8 C907.0,537.7 909.5,530.2 913.1,523.8 C916.7,517.4 921.3,510.5 926.9,505.4 C932.5,500.3 939.7,495.7 946.9,493.1 C954.1,490.5 962.3,489.4 970.0,489.7 C977.7,489.9 985.9,491.7 993.1,494.6 C1000.3,497.5 1007.2,502.0 1013.1,506.9 C1019.0,511.8 1024.4,518.7 1028.5,523.8 C1032.6,528.9 1035.5,534.1 1037.7,537.7 C1039.9,541.3 1040.9,544.1 1041.5,545.4 L1047.7,543.1 L1036.2,560.5 L1021.1,543.5 L1032.3,543.8 C1031.7,542.5 1030.7,539.8 1028.5,536.2 C1026.3,532.6 1023.1,526.9 1019.2,522.3 C1015.4,517.7 1010.5,512.4 1005.4,508.5 C1000.3,504.6 994.4,501.1 988.5,499.2 C982.6,497.3 976.2,496.2 970.0,496.9 C963.8,497.5 957.1,500.2 951.5,503.1 C945.9,506.1 940.6,510.1 936.2,514.6 C931.9,519.1 928.4,524.6 925.4,530.0 C922.4,535.4 920.0,541.8 918.5,546.9 C917.0,552.0 916.8,558.2 916.5,560.5 Z" fill="#4472c4" stroke="#2f528f" stroke-width="0.8" stroke-linejoin="round"/>
<path d="M903.5,560.5 C903.8,557.7 903.8,549.9 905.4,543.8 C907.0,537.7 909.5,530.2 913.1,523.8 C916.7,517.4 921.3,510.5 926.9,505.4 C932.5,500.3 939.7,495.7 946.9,493.1 C954.1,490.5 966.1,490.3 970.0,489.7 L970.0,496.9 C966.9,497.9 957.1,500.2 951.5,503.1 C945.9,506.1 940.6,510.1 936.2,514.6 C931.9,519.1 928.4,524.6 925.4,530.0 C922.4,535.4 920.0,541.8 918.5,546.9 C917.0,552.0 916.8,558.2 916.5,560.5 Z" fill="#335a9f"/>
<path d="M602.6,598.0 C603.9,595.0 607.2,586.0 610.1,580.3 C613.0,574.6 616.3,568.6 620.2,563.6 C624.1,558.6 629.1,553.1 633.6,550.1 C638.1,547.1 642.2,546.2 647.0,545.9 C651.8,545.6 657.3,546.4 662.1,548.5 C666.9,550.6 671.7,554.3 675.6,558.5 C679.5,562.7 683.0,568.0 685.6,573.6 C688.2,579.2 690.2,586.2 691.5,592.1 C692.8,598.0 693.0,604.4 693.2,608.9 C693.4,613.4 692.8,617.2 692.7,618.9 L699.1,622.6 L683.1,634.9 L673.9,612.6 L682.6,614.7 C682.6,613.6 682.8,610.9 682.6,608.0 C682.4,605.1 682.1,601.4 681.4,597.1 C680.6,592.8 679.6,587.0 678.1,582.0 C676.6,577.0 674.6,571.4 672.2,566.9 C669.8,562.4 666.9,557.7 663.8,555.2 C660.7,552.7 657.4,551.5 653.8,551.8 C650.2,552.1 645.9,553.7 642.0,556.8 C638.1,559.9 633.8,565.3 630.3,570.3 C626.8,575.3 623.5,581.4 621.0,587.0 C618.5,592.6 616.2,601.0 615.2,603.8 Z" fill="#4472c4" stroke="#2f528f" stroke-width="0.8" stroke-linejoin="round"/>
<path d="M602.6,598.0 C603.9,595.0 607.2,586.0 610.1,580.3 C613.0,574.6 616.3,568.6 620.2,563.6 C624.1,558.6 629.1,553.1 633.6,550.1 C638.1,547.1 644.8,546.6 647.0,545.9 L653.8,551.8 C651.8,552.6 645.9,553.7 642.0,556.8 C638.1,559.9 633.8,565.3 630.3,570.3 C626.8,575.3 623.5,581.4 621.0,587.0 C618.5,592.6 616.2,601.0 615.2,603.8 Z" fill="#335a9f"/>
<text transform="translate(746.00,67.6) scale(0.8083,1)" font-size="30.2" fill="#3f68b4" font-weight="bold" font-family="'Liberation Sans', Arial, sans-serif">Pollutant</text>
<text transform="translate(714.70,149.9) scale(0.7809,1)" font-size="30.2" fill="#3f68b4" font-weight="bold" font-family="'Liberation Sans', Arial, sans-serif">Product</text>
<text transform="translate(871.00,591.9) scale(0.8052,1)" font-size="30.2" fill="#3f68b4" font-weight="bold" font-family="'Liberation Sans', Arial, sans-serif">Pollutant</text>
<text transform="translate(1013.20,589.7) scale(0.7818,1)" font-size="30.2" fill="#3f68b4" font-weight="bold" font-family="'Liberation Sans', Arial, sans-serif">Product</text>
<text transform="translate(512.80,638.6) scale(0.8021,1)" font-size="30.2" fill="#3f68b4" font-weight="bold" font-family="'Liberation Sans', Arial, sans-serif">Pollutant</text>
<text transform="translate(658.20,671.0) scale(0.7800,1)" font-size="30.2" fill="#3f68b4" font-weight="bold" font-family="'Liberation Sans', Arial, sans-serif">Product</text>
<text transform="translate(710.50,322.0) scale(0.8040,1)" font-size="35.2" fill="#000" font-weight="bold" font-family="'Liberation Sans', Arial, sans-serif">CB(0.23 eV)</text>
<text transform="translate(570.30,397.1) scale(0.8316,1)" font-size="35.2" fill="#000" font-weight="bold" font-family="'Liberation Sans', Arial, sans-serif">2.39 eV</text>
<text transform="translate(700.40,578.1) scale(0.8127,1)" font-size="35.2" fill="#000" font-weight="bold" font-family="'Liberation Sans', Arial, sans-serif">VB(2.62 eV)</text>
<text transform="translate(999.90,229.8) scale(0.8078,1)" font-size="35.2" fill="#000" font-weight="bold" font-family="'Liberation Sans', Arial, sans-serif">CB(-1.23 eV)</text>
<text transform="translate(986.90,342.0) scale(0.7986,1)" font-size="35.2" fill="#000" font-weight="bold" font-family="'Liberation Sans', Arial, sans-serif">2.81 eV</text>
<text transform="translate(984.20,455.9) scale(0.8122,1)" font-size="35.2" fill="#000" font-weight="bold" font-family="'Liberation Sans', Arial, sans-serif">VB(1.58 eV)</text>
<text transform="translate(699.30,459.5) scale(0.8112,1)" font-size="40.5" fill="#c55a11" font-weight="bold" font-family="'Liberation Sans', Arial, sans-serif">NiTiO<tspan font-size="26" dy="9.6">3</tspan></text>
<text transform="translate(858.70,366.4) scale(0.7990,1)" font-size="39.7" fill="#4472c4" font-weight="bold" font-family="'Liberation Sans', Arial, sans-serif">NiO</text>
<text transform="translate(1018.40,88.4) scale(0.6996,1)" font-size="31.6" fill="#c00000" font-weight="bold" font-family="'Liberation Sans', Arial, sans-serif">O<tspan font-size="19.5" dy="6.7" dx="1">2</tspan><tspan font-size="19.5" dy="-16.1" dx="1.5">-</tspan></text>
<text transform="translate(1057.70,183.8) scale(0.7037,1)" font-size="31.6" fill="#000" font-weight="bold" font-family="'Liberation Sans', Arial, sans-serif">O<tspan font-size="19.5" dy="6.3" dx="1">2</tspan></text>
</g>
</svg></body></html>
